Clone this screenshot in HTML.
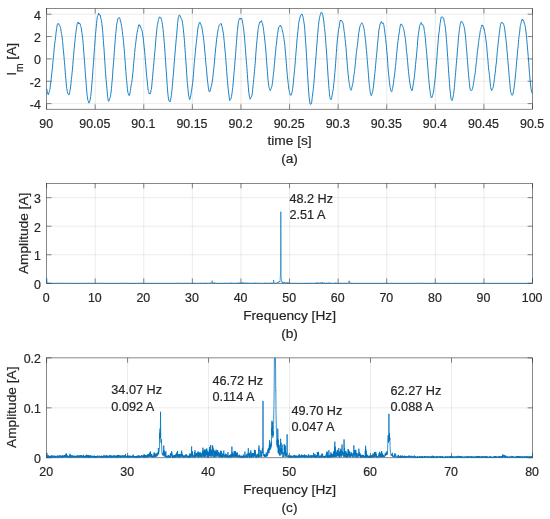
<!DOCTYPE html>
<html><head><meta charset="utf-8"><title>Figure</title>
<style>html,body{margin:0;padding:0;background:#fff;width:550px;height:519px;overflow:hidden}svg{display:block;filter:blur(0.3px)}text{stroke:#262626;stroke-width:0.2px}</style>
</head><body>
<svg width="550" height="519" viewBox="0 0 550 519">
<rect width="550" height="519" fill="#fff"/>
<g font-family="Liberation Sans, Arial, Helvetica, sans-serif" font-size="12.4" fill="#262626">
<path d="M95.19 8.60V109.20M143.78 8.60V109.20M192.37 8.60V109.20M240.96 8.60V109.20M289.55 8.60V109.20M338.14 8.60V109.20M386.73 8.60V109.20M435.32 8.60V109.20M483.91 8.60V109.20" stroke="#262626" stroke-opacity="0.095" stroke-width="1" fill="none"/>
<path d="M46.60 103.61H532.50M46.60 81.26H532.50M46.60 58.90H532.50M46.60 36.54H532.50M46.60 14.19H532.50" stroke="#262626" stroke-opacity="0.095" stroke-width="1" fill="none"/>
<path d="M46.60 109.20v-4.90M46.60 8.60v4.90M95.19 109.20v-4.90M95.19 8.60v4.90M143.78 109.20v-4.90M143.78 8.60v4.90M192.37 109.20v-4.90M192.37 8.60v4.90M240.96 109.20v-4.90M240.96 8.60v4.90M289.55 109.20v-4.90M289.55 8.60v4.90M338.14 109.20v-4.90M338.14 8.60v4.90M386.73 109.20v-4.90M386.73 8.60v4.90M435.32 109.20v-4.90M435.32 8.60v4.90M483.91 109.20v-4.90M483.91 8.60v4.90M532.50 109.20v-4.90M532.50 8.60v4.90M46.60 103.61h4.90M532.50 103.61h-4.90M46.60 81.26h4.90M532.50 81.26h-4.90M46.60 58.90h4.90M532.50 58.90h-4.90M46.60 36.54h4.90M532.50 36.54h-4.90M46.60 14.19h4.90M532.50 14.19h-4.90" stroke="#262626" stroke-width="0.55" fill="none"/>
<rect x="46.60" y="8.60" width="485.90" height="100.60" stroke="#262626" stroke-width="0.55" fill="none"/>
<text x="46.20" y="127.80" text-anchor="middle">90</text>
<text x="94.79" y="127.80" text-anchor="middle">90.05</text>
<text x="143.38" y="127.80" text-anchor="middle">90.1</text>
<text x="191.97" y="127.80" text-anchor="middle">90.15</text>
<text x="240.56" y="127.80" text-anchor="middle">90.2</text>
<text x="289.15" y="127.80" text-anchor="middle">90.25</text>
<text x="337.74" y="127.80" text-anchor="middle">90.3</text>
<text x="386.33" y="127.80" text-anchor="middle">90.35</text>
<text x="434.92" y="127.80" text-anchor="middle">90.4</text>
<text x="483.51" y="127.80" text-anchor="middle">90.45</text>
<text x="532.10" y="127.80" text-anchor="middle">90.5</text>
<text x="40.90" y="109.01" text-anchor="end">-4</text>
<text x="40.90" y="86.66" text-anchor="end">-2</text>
<text x="40.90" y="64.30" text-anchor="end">0</text>
<text x="40.90" y="41.94" text-anchor="end">2</text>
<text x="40.90" y="19.59" text-anchor="end">4</text>
<path d="M46.60 88.67 46.85 89.23 47.10 90.43 47.35 91.56 47.60 92.86 47.85 94.13 48.10 94.59 48.35 94.65 48.60 94.12 48.85 93.04 49.10 92.16 49.36 91.50 49.61 90.26 49.86 89.53 50.11 87.74 50.36 86.00 50.61 84.09 50.86 81.80 51.11 79.60 51.37 77.21 51.62 74.92 51.87 72.32 52.12 70.77 52.37 68.27 52.62 66.07 52.87 62.59 53.12 59.60 53.38 57.10 53.63 55.32 53.88 52.23 54.13 49.70 54.38 47.18 54.63 44.51 54.88 42.33 55.13 40.75 55.39 38.90 55.64 36.55 55.89 34.42 56.14 32.24 56.39 30.04 56.64 28.61 56.89 27.25 57.14 25.50 57.40 24.29 57.65 23.88 57.90 23.66 58.15 23.19 58.40 23.55 58.65 24.37 58.91 24.50 59.16 24.81 59.42 24.69 59.67 25.21 59.92 26.25 60.18 26.81 60.43 27.34 60.68 28.51 60.94 30.04 61.19 31.65 61.45 33.59 61.70 34.36 61.95 36.31 62.21 38.06 62.46 40.37 62.72 42.63 62.97 46.24 63.22 49.02 63.48 50.87 63.73 53.44 63.98 56.46 64.24 59.46 64.49 62.48 64.75 65.40 65.00 68.81 65.25 72.15 65.51 75.42 65.76 78.31 66.02 80.74 66.27 83.96 66.52 86.24 66.78 88.30 67.03 90.00 67.28 91.34 67.54 92.83 67.79 93.41 68.05 94.04 68.30 94.34 68.55 94.82 68.80 95.11 69.06 94.75 69.31 94.27 69.56 92.66 69.81 91.32 70.07 90.06 70.32 89.01 70.57 87.00 70.83 85.12 71.08 82.09 71.33 79.57 71.58 77.42 71.83 75.43 72.09 72.77 72.34 70.49 72.59 67.97 72.84 64.43 73.10 60.93 73.35 58.49 73.60 55.58 73.86 52.00 74.11 49.76 74.36 46.98 74.61 43.68 74.87 41.62 75.12 39.34 75.37 36.70 75.62 34.69 75.88 32.67 76.13 30.84 76.38 29.10 76.63 27.70 76.89 25.36 77.14 24.43 77.39 23.31 77.64 22.56 77.90 22.46 78.15 22.38 78.40 22.96 78.65 22.60 78.90 23.86 79.15 23.01 79.40 23.58 79.65 23.29 79.90 23.40 80.15 24.14 80.40 25.21 80.65 26.34 80.90 26.68 81.15 27.72 81.40 28.87 81.65 30.88 81.90 32.72 82.15 34.46 82.40 35.92 82.65 38.44 82.90 40.56 83.15 43.60 83.40 46.42 83.65 50.63 83.90 53.13 84.15 56.95 84.40 60.05 84.65 63.17 84.90 66.59 85.15 70.42 85.40 74.54 85.65 76.90 85.90 80.26 86.15 83.73 86.40 86.83 86.65 90.13 86.90 92.59 87.15 95.37 87.40 96.77 87.65 99.20 87.90 100.22 88.15 100.67 88.40 101.71 88.65 101.93 88.90 103.11 89.16 102.41 89.41 102.34 89.67 101.10 89.92 100.72 90.18 99.49 90.43 97.98 90.69 96.59 90.94 94.09 91.20 92.15 91.45 89.23 91.71 86.10 91.96 82.82 92.22 79.52 92.47 76.27 92.73 73.01 92.98 69.38 93.24 65.93 93.49 62.41 93.75 59.12 94.01 54.93 94.26 51.17 94.52 47.65 94.77 44.13 95.03 41.06 95.28 37.48 95.54 34.49 95.79 31.64 96.05 28.66 96.30 25.96 96.56 23.67 96.81 20.51 97.07 18.89 97.32 17.06 97.58 16.28 97.83 15.99 98.09 15.45 98.34 14.27 98.60 13.08 98.85 13.65 99.10 13.88 99.35 15.05 99.60 14.87 99.86 14.91 100.11 14.89 100.36 15.51 100.61 17.12 100.86 18.73 101.11 19.61 101.36 20.44 101.61 21.97 101.87 23.48 102.12 26.06 102.37 28.02 102.62 30.58 102.87 33.52 103.12 37.28 103.37 40.32 103.62 43.91 103.88 47.13 104.13 50.64 104.38 54.91 104.63 58.99 104.88 62.49 105.13 66.48 105.38 70.76 105.63 73.69 105.89 77.15 106.14 79.59 106.39 83.10 106.64 85.22 106.89 88.68 107.14 90.99 107.39 94.16 107.64 96.57 107.90 98.31 108.15 100.31 108.40 101.25 108.65 101.35 108.90 100.90 109.16 100.64 109.41 99.60 109.67 98.54 109.92 98.31 110.18 97.77 110.43 96.30 110.69 94.65 110.94 93.14 111.20 91.12 111.45 88.56 111.71 85.62 111.96 82.43 112.22 79.97 112.47 76.76 112.73 73.15 112.98 69.09 113.24 65.75 113.49 62.76 113.75 59.93 114.01 56.33 114.26 52.65 114.52 49.34 114.77 45.74 115.03 42.80 115.28 39.68 115.54 36.25 115.79 33.44 116.05 31.18 116.30 28.17 116.56 25.81 116.81 23.96 117.07 22.81 117.32 21.22 117.58 20.16 117.83 18.84 118.09 18.51 118.34 18.02 118.60 17.78 118.85 17.89 119.10 17.86 119.35 18.01 119.60 17.71 119.86 18.74 120.11 19.19 120.36 21.03 120.61 21.05 120.86 22.05 121.11 23.64 121.36 24.90 121.61 26.32 121.87 27.59 122.12 29.72 122.37 31.58 122.62 34.08 122.87 35.85 123.12 37.41 123.37 40.24 123.62 42.66 123.88 46.06 124.13 48.71 124.38 51.51 124.63 54.66 124.88 58.40 125.13 61.75 125.38 64.76 125.63 67.97 125.89 71.55 126.14 74.74 126.39 77.90 126.64 80.45 126.89 83.10 127.14 85.85 127.39 88.35 127.64 90.87 127.90 92.59 128.15 93.10 128.40 93.77 128.65 94.73 128.90 95.27 129.15 94.76 129.40 95.40 129.65 94.66 129.90 93.32 130.16 91.72 130.41 90.59 130.66 88.70 130.91 86.55 131.16 85.21 131.41 83.61 131.66 82.75 131.91 81.11 132.17 79.48 132.42 77.03 132.67 74.98 132.92 72.87 133.17 70.07 133.42 66.19 133.67 63.23 133.92 60.88 134.18 58.29 134.43 55.65 134.68 52.47 134.93 49.74 135.18 47.77 135.43 45.64 135.68 43.46 135.93 41.24 136.19 39.16 136.44 36.90 136.69 35.22 136.94 33.44 137.19 32.27 137.44 30.92 137.69 29.70 137.94 28.47 138.20 26.94 138.45 26.19 138.70 24.94 138.95 24.73 139.20 24.49 139.45 25.24 139.70 25.98 139.95 25.82 140.20 25.61 140.46 26.08 140.71 27.00 140.96 28.25 141.21 29.06 141.46 29.64 141.71 29.45 141.96 30.14 142.21 31.76 142.47 33.10 142.72 34.95 142.97 36.15 143.22 37.87 143.47 40.41 143.72 42.85 143.97 45.11 144.22 47.71 144.48 50.09 144.73 52.74 144.98 55.43 145.23 58.82 145.48 61.34 145.73 64.81 145.98 67.72 146.23 70.99 146.49 73.79 146.74 76.46 146.99 78.83 147.24 81.16 147.49 84.05 147.74 86.50 147.99 88.99 148.24 90.39 148.50 91.45 148.75 91.71 149.00 93.09 149.25 93.90 149.50 93.81 149.75 94.05 150.00 93.78 150.26 94.02 150.51 92.86 150.76 92.31 151.01 90.19 151.27 89.59 151.52 87.97 151.77 86.09 152.03 82.76 152.28 80.60 152.53 77.65 152.78 74.63 153.03 71.84 153.29 68.75 153.54 66.23 153.79 63.18 154.04 60.77 154.30 57.58 154.55 54.94 154.80 52.41 155.06 49.54 155.31 46.63 155.56 42.97 155.81 40.23 156.06 37.14 156.32 34.53 156.57 31.98 156.82 29.49 157.07 27.47 157.33 25.41 157.58 24.78 157.83 23.20 158.09 21.70 158.34 20.48 158.59 19.29 158.84 18.84 159.09 17.97 159.35 17.21 159.60 16.85 159.85 17.07 160.11 17.58 160.36 17.88 160.62 17.71 160.87 17.61 161.12 18.26 161.38 19.85 161.63 20.53 161.88 21.73 162.14 22.39 162.39 24.61 162.65 26.04 162.90 28.26 163.15 30.12 163.41 32.78 163.66 35.86 163.92 38.36 164.17 41.32 164.42 44.64 164.68 48.14 164.93 51.45 165.18 55.22 165.44 59.20 165.69 62.58 165.95 67.09 166.20 70.34 166.45 73.99 166.71 77.40 166.96 81.87 167.22 85.38 167.47 89.18 167.72 92.03 167.98 94.59 168.23 96.77 168.48 98.81 168.74 100.20 168.99 100.96 169.25 101.07 169.50 101.07 169.75 101.46 170.00 102.04 170.26 101.50 170.51 100.40 170.76 99.00 171.01 97.47 171.27 95.57 171.52 93.90 171.77 91.42 172.03 89.40 172.28 86.43 172.53 83.82 172.78 80.36 173.03 77.88 173.29 75.15 173.54 72.36 173.79 68.87 174.04 65.25 174.30 61.86 174.55 58.68 174.80 55.51 175.06 52.96 175.31 49.94 175.56 47.10 175.81 44.22 176.06 40.95 176.32 38.17 176.57 35.68 176.82 33.00 177.07 29.81 177.33 26.65 177.58 23.59 177.83 21.32 178.09 19.23 178.34 17.67 178.59 16.77 178.84 15.40 179.09 15.15 179.35 14.93 179.60 15.15 179.85 15.41 180.10 16.34 180.36 16.26 180.61 17.03 180.86 17.96 181.11 18.25 181.37 18.94 181.62 19.32 181.87 20.06 182.12 20.63 182.38 22.03 182.63 23.62 182.88 25.18 183.13 27.39 183.39 29.48 183.64 32.00 183.89 34.72 184.14 37.38 184.40 40.36 184.65 43.69 184.90 47.12 185.16 50.82 185.41 54.42 185.66 58.23 185.91 61.59 186.16 65.70 186.42 69.25 186.67 72.97 186.92 76.54 187.17 80.50 187.43 83.40 187.68 86.10 187.93 88.75 188.19 91.42 188.44 93.82 188.69 95.87 188.94 96.72 189.19 97.69 189.45 98.79 189.70 99.58 189.95 98.80 190.20 97.88 190.45 97.08 190.71 95.82 190.96 94.29 191.21 92.66 191.46 91.05 191.71 89.77 191.96 87.77 192.21 86.18 192.46 84.06 192.72 82.59 192.97 79.99 193.22 77.52 193.47 74.24 193.72 70.76 193.97 67.47 194.22 63.80 194.47 61.17 194.73 58.53 194.98 55.57 195.23 53.54 195.48 50.24 195.73 47.99 195.98 45.38 196.23 43.51 196.48 41.41 196.74 38.70 196.99 36.56 197.24 34.23 197.49 32.04 197.74 29.11 197.99 28.04 198.24 26.95 198.49 25.96 198.75 24.56 199.00 23.68 199.25 22.64 199.50 22.72 199.75 22.58 200.00 22.25 200.26 23.12 200.51 23.99 200.76 24.28 201.01 25.00 201.27 25.72 201.52 26.10 201.77 26.85 202.03 28.05 202.28 29.90 202.53 31.80 202.78 33.05 203.03 34.56 203.29 36.17 203.54 38.23 203.79 40.40 204.04 42.23 204.30 44.82 204.55 48.15 204.80 50.98 205.06 53.78 205.31 56.32 205.56 59.34 205.81 62.32 206.06 65.56 206.32 67.61 206.57 70.21 206.82 73.07 207.07 76.20 207.33 79.02 207.58 81.50 207.83 83.22 208.09 85.25 208.34 87.45 208.59 88.84 208.84 90.34 209.09 91.16 209.35 91.93 209.60 91.68 209.85 91.63 210.10 91.03 210.35 90.06 210.60 89.12 210.85 87.80 211.10 86.72 211.35 86.09 211.60 85.21 211.85 83.83 212.10 82.43 212.35 81.04 212.60 78.70 212.85 77.18 213.10 74.81 213.35 72.07 213.60 69.56 213.85 67.85 214.10 65.62 214.35 63.17 214.60 60.21 214.85 57.02 215.10 54.15 215.35 52.10 215.60 48.90 215.85 46.72 216.10 44.72 216.35 42.07 216.60 39.25 216.85 37.77 217.10 36.25 217.35 34.45 217.60 32.78 217.85 31.16 218.10 29.73 218.35 28.58 218.60 27.42 218.85 26.35 219.10 25.23 219.35 24.91 219.60 24.85 219.85 24.62 220.10 23.98 220.35 23.67 220.60 23.73 220.86 23.77 221.11 23.74 221.36 23.74 221.61 25.11 221.87 26.18 222.12 27.02 222.37 27.72 222.62 29.45 222.88 30.97 223.13 31.98 223.38 33.27 223.63 35.33 223.89 38.11 224.14 40.49 224.39 43.34 224.64 45.96 224.90 48.94 225.15 51.66 225.40 53.84 225.66 57.54 225.91 60.53 226.16 64.07 226.41 67.38 226.66 71.26 226.92 73.92 227.17 77.53 227.42 80.67 227.67 83.09 227.93 85.96 228.18 88.89 228.43 90.86 228.69 93.13 228.94 95.16 229.19 97.15 229.44 99.20 229.69 100.55 229.95 100.24 230.20 99.52 230.45 99.22 230.71 99.19 230.96 98.89 231.22 97.68 231.47 96.48 231.72 95.05 231.98 93.71 232.23 91.62 232.48 89.79 232.74 87.53 232.99 84.94 233.25 82.14 233.50 78.99 233.75 75.44 234.01 72.92 234.26 70.81 234.52 67.67 234.77 64.13 235.02 60.80 235.28 58.08 235.53 54.68 235.78 51.64 236.04 48.09 236.29 44.65 236.55 41.48 236.80 38.20 237.05 34.29 237.31 31.45 237.56 29.16 237.82 27.00 238.07 24.79 238.32 22.86 238.58 21.53 238.83 20.39 239.08 19.44 239.34 18.55 239.59 18.59 239.85 18.26 240.10 19.10 240.35 19.06 240.60 19.05 240.85 18.22 241.10 18.83 241.36 18.38 241.61 18.53 241.86 19.21 242.11 20.15 242.36 21.07 242.61 22.97 242.86 23.85 243.11 25.43 243.37 27.12 243.62 29.28 243.87 31.33 244.12 33.30 244.37 36.04 244.62 38.20 244.87 41.62 245.12 44.67 245.38 48.25 245.63 51.86 245.88 55.34 246.13 58.90 246.38 61.67 246.63 64.47 246.88 67.60 247.13 71.19 247.39 74.73 247.64 78.42 247.89 81.82 248.14 84.40 248.39 87.51 248.64 91.00 248.89 92.78 249.14 94.89 249.40 96.08 249.65 97.28 249.90 98.20 250.15 99.20 250.40 98.59 250.65 97.78 250.91 97.74 251.16 97.13 251.41 96.93 251.66 96.19 251.91 95.32 252.17 93.87 252.42 92.30 252.67 89.37 252.93 86.56 253.18 84.51 253.43 82.39 253.68 79.68 253.94 76.87 254.19 74.39 254.44 71.48 254.69 68.77 254.94 65.61 255.20 63.29 255.45 59.80 255.70 56.15 255.96 52.09 256.21 49.14 256.46 45.70 256.71 43.08 256.96 40.59 257.22 37.89 257.47 35.53 257.72 33.09 257.98 30.39 258.23 28.46 258.48 27.23 258.73 25.91 258.99 24.92 259.24 23.77 259.49 22.78 259.74 22.03 260.00 22.65 260.25 22.39 260.50 21.40 260.76 21.53 261.01 21.36 261.27 21.15 261.52 20.70 261.78 22.04 262.03 22.28 262.29 23.17 262.54 23.83 262.80 25.26 263.05 26.20 263.31 27.46 263.56 29.74 263.82 31.71 264.07 34.23 264.33 35.80 264.58 37.98 264.84 40.74 265.09 42.79 265.35 45.27 265.61 47.95 265.86 50.97 266.12 54.03 266.37 58.12 266.63 61.64 266.88 65.34 267.14 68.18 267.39 71.60 267.65 74.92 267.90 78.20 268.16 80.77 268.41 82.81 268.67 85.43 268.92 86.65 269.18 87.86 269.43 88.57 269.69 89.48 269.94 90.12 270.20 90.59 270.45 90.02 270.71 89.31 270.96 88.94 271.21 88.33 271.46 87.63 271.72 86.76 271.97 86.05 272.22 84.47 272.47 82.51 272.73 80.50 272.98 78.40 273.23 75.64 273.48 73.67 273.74 71.71 273.99 69.50 274.24 66.30 274.49 63.29 274.75 60.08 275.00 57.28 275.25 55.12 275.51 52.21 275.76 50.20 276.01 46.89 276.26 45.33 276.52 42.93 276.77 40.76 277.02 38.10 277.27 35.88 277.53 34.35 277.78 32.70 278.03 31.02 278.28 29.06 278.54 27.82 278.79 27.03 279.04 27.10 279.29 26.86 279.55 26.51 279.80 25.89 280.05 25.60 280.30 25.31 280.55 25.97 280.80 25.90 281.06 27.04 281.31 26.84 281.56 27.33 281.81 28.36 282.06 29.56 282.31 30.27 282.56 30.99 282.81 32.38 283.07 33.78 283.32 34.71 283.57 36.52 283.82 37.47 284.07 39.30 284.32 41.23 284.57 42.96 284.82 45.55 285.07 48.03 285.33 51.29 285.58 54.22 285.83 57.46 286.08 60.20 286.33 63.35 286.58 66.77 286.83 70.02 287.08 72.71 287.33 75.43 287.59 78.05 287.84 80.17 288.09 82.61 288.34 84.39 288.59 86.88 288.84 89.23 289.09 90.37 289.34 91.16 289.60 92.59 289.85 93.63 290.10 94.54 290.35 95.10 290.60 94.98 290.85 95.26 291.10 94.71 291.35 94.74 291.60 93.27 291.85 93.24 292.10 91.63 292.35 90.88 292.60 89.22 292.85 87.03 293.10 85.22 293.35 82.51 293.60 80.05 293.85 76.68 294.10 74.25 294.35 71.83 294.60 69.52 294.85 66.68 295.10 64.18 295.35 60.65 295.60 57.38 295.85 54.28 296.10 51.39 296.35 48.27 296.60 45.21 296.85 41.92 297.10 38.89 297.35 36.49 297.60 34.05 297.85 31.71 298.10 29.59 298.35 26.70 298.60 24.61 298.85 22.51 299.10 21.15 299.35 20.16 299.60 19.03 299.85 18.18 300.10 16.99 300.35 16.16 300.60 15.34 300.85 15.07 301.10 15.13 301.35 14.58 301.60 14.05 301.85 14.07 302.10 14.46 302.35 14.37 302.60 15.84 302.85 16.20 303.10 17.39 303.35 18.68 303.60 20.22 303.85 21.79 304.10 23.19 304.35 25.15 304.60 27.19 304.85 30.47 305.10 34.23 305.35 37.88 305.60 41.84 305.85 44.64 306.10 48.76 306.35 52.73 306.60 57.38 306.85 61.44 307.10 66.59 307.35 70.94 307.60 75.48 307.85 78.93 308.10 83.21 308.35 86.98 308.60 91.05 308.85 93.83 309.10 96.96 309.35 98.84 309.60 101.01 309.85 102.60 310.10 103.99 310.35 104.16 310.60 104.32 310.85 104.30 311.10 103.58 311.35 103.54 311.60 102.94 311.85 101.01 312.10 98.64 312.35 96.59 312.60 94.92 312.85 92.84 313.10 90.81 313.35 88.36 313.60 86.38 313.85 83.65 314.10 80.75 314.35 77.34 314.60 73.80 314.85 70.21 315.10 67.48 315.35 64.02 315.60 60.81 315.85 58.02 316.10 55.56 316.35 51.74 316.60 48.05 316.85 44.94 317.10 41.98 317.35 38.59 317.60 35.35 317.85 32.60 318.10 29.79 318.35 26.65 318.60 24.60 318.85 21.88 319.10 20.39 319.35 18.91 319.60 17.69 319.85 16.32 320.10 15.61 320.35 14.62 320.60 13.86 320.85 12.72 321.10 13.13 321.36 12.75 321.61 12.72 321.87 12.50 322.12 12.83 322.38 13.30 322.63 14.57 322.89 15.50 323.14 17.05 323.40 18.98 323.65 20.17 323.91 22.00 324.16 24.80 324.42 27.54 324.67 28.82 324.93 31.82 325.18 34.43 325.44 37.13 325.69 40.82 325.95 44.46 326.21 47.92 326.46 50.88 326.72 54.99 326.97 58.69 327.23 62.94 327.48 67.03 327.74 70.97 327.99 75.18 328.25 78.81 328.50 81.96 328.76 85.53 329.01 88.43 329.27 91.50 329.52 93.73 329.78 96.48 330.03 97.63 330.29 98.81 330.54 99.44 330.80 99.73 331.05 99.48 331.31 98.94 331.56 98.83 331.82 97.42 332.07 95.58 332.32 94.39 332.58 92.42 332.83 91.13 333.08 90.16 333.34 88.57 333.59 85.88 333.85 83.28 334.10 81.42 334.35 78.59 334.61 75.95 334.86 72.33 335.12 69.91 335.37 67.22 335.62 63.50 335.88 59.53 336.13 55.99 336.38 52.43 336.64 48.88 336.89 45.47 337.15 42.09 337.40 39.40 337.65 37.17 337.91 35.52 338.16 33.34 338.42 31.20 338.67 29.40 338.92 28.33 339.18 27.18 339.43 25.52 339.68 23.24 339.94 21.69 340.19 20.52 340.45 20.90 340.70 20.14 340.95 20.33 341.20 20.01 341.45 20.41 341.70 21.06 341.95 21.40 342.20 21.68 342.45 21.46 342.70 22.40 342.95 23.05 343.20 24.30 343.45 25.72 343.70 27.51 343.95 29.72 344.20 31.70 344.45 33.41 344.70 35.27 344.95 37.65 345.20 39.73 345.45 42.25 345.70 44.64 345.95 47.41 346.20 50.14 346.45 53.46 346.70 57.02 346.95 60.04 347.20 63.31 347.45 66.27 347.70 69.44 347.95 72.21 348.20 74.48 348.45 76.94 348.70 79.50 348.95 81.56 349.20 83.18 349.45 84.51 349.70 86.11 349.95 87.42 350.20 88.45 350.45 89.45 350.70 89.90 350.95 90.27 351.21 90.16 351.46 89.46 351.72 88.33 351.97 87.12 352.23 86.05 352.48 84.75 352.74 83.89 352.99 82.72 353.25 80.64 353.50 78.40 353.76 76.50 354.01 74.73 354.27 73.24 354.52 71.56 354.78 69.25 355.03 66.63 355.29 64.17 355.54 61.62 355.80 58.61 356.05 55.98 356.30 53.63 356.56 51.62 356.81 49.53 357.07 47.44 357.32 45.60 357.58 43.91 357.83 41.67 358.09 38.72 358.34 36.30 358.60 33.76 358.85 32.37 359.11 31.03 359.36 28.99 359.62 27.76 359.87 26.80 360.13 26.04 360.38 25.40 360.64 24.70 360.89 24.32 361.15 23.85 361.40 23.45 361.65 22.75 361.91 22.81 362.16 23.29 362.42 23.48 362.67 24.37 362.92 24.70 363.18 25.25 363.43 25.88 363.68 27.11 363.94 28.29 364.19 29.46 364.45 31.57 364.70 33.48 364.95 35.86 365.21 37.74 365.46 39.81 365.72 41.84 365.97 45.16 366.22 47.77 366.48 50.56 366.73 53.14 366.98 56.54 367.24 59.49 367.49 63.18 367.75 65.64 368.00 68.77 368.25 72.31 368.51 75.42 368.76 79.06 369.02 82.21 369.27 84.28 369.52 86.35 369.78 88.47 370.03 90.57 370.28 92.19 370.54 93.72 370.79 94.80 371.05 95.46 371.30 95.61 371.55 94.87 371.81 94.30 372.06 93.13 372.31 92.92 372.56 91.75 372.81 90.83 373.07 88.77 373.32 87.72 373.57 85.89 373.82 82.95 374.08 80.31 374.33 78.04 374.58 75.98 374.83 73.29 375.09 71.21 375.34 68.70 375.59 65.37 375.84 62.87 376.10 59.46 376.35 57.15 376.60 54.67 376.86 52.32 377.11 49.12 377.36 45.84 377.61 43.52 377.87 40.83 378.12 38.48 378.37 35.71 378.62 32.90 378.88 30.42 379.13 28.88 379.38 28.02 379.63 26.57 379.88 25.09 380.14 23.87 380.39 23.36 380.64 22.70 380.89 22.79 381.15 21.90 381.40 21.54 381.65 22.18 381.91 22.97 382.16 23.58 382.42 23.50 382.67 23.25 382.92 22.76 383.18 23.55 383.43 23.59 383.68 24.62 383.94 25.54 384.19 27.52 384.45 29.26 384.70 31.05 384.95 33.17 385.21 35.12 385.46 37.39 385.72 39.45 385.97 41.98 386.22 44.21 386.48 47.22 386.73 50.56 386.98 53.00 387.24 55.68 387.49 59.08 387.75 63.34 388.00 67.44 388.25 70.24 388.51 72.84 388.76 74.82 389.02 77.94 389.27 80.31 389.52 82.78 389.78 84.86 390.03 86.86 390.28 87.56 390.54 88.89 390.79 90.44 391.05 91.09 391.30 91.44 391.55 91.68 391.81 91.66 392.06 90.81 392.32 89.57 392.57 88.68 392.82 87.05 393.08 85.73 393.33 83.87 393.58 82.21 393.84 79.73 394.09 78.01 394.35 76.42 394.60 74.99 394.85 72.38 395.11 70.12 395.36 66.83 395.62 65.27 395.87 62.78 396.12 59.86 396.38 57.21 396.63 54.20 396.88 51.51 397.14 48.83 397.39 45.99 397.65 44.15 397.90 41.63 398.15 40.75 398.41 37.74 398.66 35.93 398.92 34.01 399.17 33.16 399.42 31.37 399.68 29.19 399.93 27.74 400.18 26.08 400.44 25.04 400.69 24.30 400.95 24.35 401.20 24.21 401.45 23.94 401.70 24.69 401.95 25.27 402.20 25.31 402.46 26.00 402.71 26.16 402.96 26.55 403.21 27.53 403.46 28.47 403.71 29.23 403.96 30.17 404.21 31.88 404.47 33.31 404.72 35.18 404.97 36.69 405.22 37.69 405.47 39.67 405.72 42.14 405.97 44.26 406.22 47.70 406.48 50.76 406.73 52.66 406.98 54.89 407.23 57.52 407.48 60.55 407.73 62.77 407.98 66.12 408.23 69.02 408.49 71.42 408.74 73.89 408.99 75.84 409.24 78.09 409.49 80.06 409.74 82.23 409.99 83.67 410.24 85.18 410.50 86.89 410.75 88.25 411.00 88.97 411.25 89.23 411.50 89.79 411.76 90.64 412.01 90.79 412.27 90.18 412.52 88.94 412.78 86.94 413.03 86.03 413.29 84.19 413.54 82.19 413.80 80.52 414.05 79.03 414.31 77.58 414.56 74.81 414.82 72.24 415.07 70.06 415.33 67.10 415.58 64.47 415.84 61.79 416.09 59.46 416.35 57.12 416.61 53.83 416.86 51.45 417.12 48.19 417.37 45.74 417.63 41.79 417.88 38.93 418.14 36.43 418.39 34.58 418.65 33.07 418.90 30.76 419.16 29.18 419.41 26.70 419.67 25.56 419.92 24.86 420.18 24.45 420.43 23.78 420.69 23.41 420.94 22.66 421.20 22.49 421.45 23.10 421.71 24.11 421.96 24.73 422.21 25.26 422.47 25.01 422.72 24.72 422.98 25.26 423.23 25.65 423.48 26.09 423.74 26.83 423.99 28.03 424.24 30.27 424.50 31.50 424.75 33.60 425.00 34.95 425.26 37.58 425.51 40.13 425.77 43.43 426.02 46.33 426.27 48.68 426.53 51.28 426.78 54.39 427.03 57.94 427.29 61.03 427.54 63.97 427.80 67.16 428.05 70.33 428.30 73.84 428.56 77.18 428.81 79.61 429.06 81.96 429.32 84.57 429.57 87.92 429.82 89.19 430.08 91.29 430.33 93.45 430.59 95.16 430.84 95.86 431.09 97.29 431.35 97.65 431.60 98.00 431.85 97.70 432.10 97.20 432.35 96.10 432.60 95.66 432.85 94.40 433.10 93.17 433.35 92.35 433.60 91.02 433.85 89.48 434.10 86.94 434.35 85.45 434.60 83.26 434.85 80.89 435.10 78.58 435.35 76.36 435.60 73.84 435.85 70.75 436.10 67.44 436.35 64.49 436.60 61.99 436.85 58.46 437.10 55.31 437.35 50.82 437.60 48.00 437.85 45.03 438.10 42.14 438.35 38.72 438.60 35.93 438.85 33.79 439.10 32.15 439.35 30.35 439.60 27.81 439.85 25.51 440.10 23.36 440.35 22.46 440.60 20.15 440.85 18.92 441.10 17.46 441.35 17.01 441.60 17.14 441.85 16.81 442.10 16.96 442.36 16.84 442.61 17.33 442.87 17.93 443.12 18.04 443.38 18.16 443.63 18.16 443.89 19.23 444.14 20.81 444.40 22.61 444.65 23.53 444.91 24.94 445.16 26.23 445.42 28.22 445.67 30.71 445.93 33.22 446.18 36.35 446.44 39.26 446.69 42.70 446.95 46.04 447.21 50.12 447.46 54.02 447.72 57.48 447.97 61.41 448.23 65.60 448.48 69.22 448.74 73.16 448.99 76.80 449.25 80.09 449.50 83.29 449.76 86.92 450.01 90.09 450.27 92.05 450.52 94.65 450.78 96.87 451.03 98.55 451.29 99.57 451.54 100.08 451.80 100.16 452.06 100.61 452.31 100.44 452.57 99.41 452.82 97.90 453.08 97.02 453.33 95.89 453.59 94.42 453.84 92.09 454.10 90.31 454.35 87.42 454.61 84.61 454.86 81.22 455.12 78.58 455.37 75.63 455.63 72.73 455.88 69.77 456.14 66.24 456.39 63.30 456.65 60.25 456.91 57.50 457.16 54.07 457.42 50.96 457.67 48.15 457.93 44.76 458.18 41.26 458.44 37.90 458.69 35.72 458.95 33.44 459.20 31.67 459.46 29.54 459.71 27.58 459.97 25.88 460.22 24.68 460.48 23.37 460.73 22.15 460.99 21.43 461.24 21.60 461.50 21.60 461.76 21.63 462.01 21.40 462.27 21.89 462.52 22.22 462.78 22.82 463.03 23.75 463.29 24.02 463.54 25.13 463.80 25.61 464.05 27.15 464.31 27.30 464.56 28.70 464.82 30.82 465.07 33.03 465.33 34.72 465.58 37.42 465.84 40.49 466.09 43.39 466.35 46.64 466.61 49.79 466.86 52.50 467.12 56.26 467.37 59.64 467.63 62.78 467.88 66.00 468.14 69.49 468.39 72.41 468.65 75.39 468.90 78.49 469.16 80.61 469.41 83.18 469.67 85.87 469.92 87.83 470.18 89.24 470.43 90.19 470.69 90.30 470.94 90.56 471.20 90.28 471.45 90.33 471.71 90.49 471.96 90.04 472.21 89.74 472.47 88.48 472.72 88.14 472.97 86.12 473.23 85.46 473.48 83.45 473.73 81.85 473.99 80.45 474.24 78.51 474.50 77.09 474.75 75.14 475.00 74.41 475.26 72.27 475.51 70.32 475.76 67.46 476.02 65.01 476.27 62.71 476.52 60.73 476.78 58.23 477.03 55.76 477.28 52.67 477.54 50.59 477.79 48.84 478.04 47.11 478.30 44.32 478.55 42.58 478.80 40.51 479.06 38.69 479.31 37.47 479.57 35.58 479.82 34.19 480.07 32.27 480.33 30.45 480.58 29.58 480.83 28.64 481.09 27.88 481.34 26.86 481.59 26.27 481.85 25.10 482.10 24.91 482.36 25.94 482.61 26.01 482.87 26.05 483.12 25.89 483.38 26.44 483.63 27.53 483.89 29.05 484.14 28.90 484.40 30.07 484.65 31.45 484.91 33.25 485.16 34.37 485.42 36.07 485.67 38.11 485.93 40.04 486.18 42.04 486.44 43.68 486.69 45.93 486.95 49.78 487.21 53.00 487.46 56.10 487.72 57.92 487.97 60.68 488.23 64.34 488.48 67.58 488.74 70.21 488.99 71.54 489.25 73.71 489.50 75.56 489.76 78.51 490.01 81.33 490.27 83.49 490.52 86.45 490.78 87.53 491.03 89.18 491.29 89.26 491.54 90.53 491.80 90.53 492.05 89.53 492.30 88.98 492.55 88.76 492.80 88.60 493.05 87.64 493.30 86.68 493.55 85.07 493.80 83.41 494.05 81.93 494.30 79.75 494.55 77.68 494.80 75.86 495.05 73.82 495.30 72.05 495.55 69.46 495.80 66.99 496.05 64.68 496.30 62.91 496.55 60.86 496.80 57.42 497.05 54.51 497.30 51.77 497.55 49.35 497.80 46.64 498.05 44.32 498.30 41.92 498.55 39.92 498.80 37.59 499.05 35.54 499.30 33.25 499.55 31.12 499.80 29.79 500.05 27.30 500.30 26.31 500.55 24.48 500.80 23.87 501.05 22.91 501.30 22.85 501.55 22.31 501.80 22.16 502.05 22.49 502.31 22.67 502.56 22.76 502.81 23.18 503.06 23.08 503.31 23.63 503.57 24.21 503.82 25.22 504.07 25.62 504.32 26.84 504.58 28.09 504.83 29.94 505.08 32.09 505.33 34.48 505.59 36.09 505.84 38.51 506.09 40.64 506.34 42.56 506.60 45.55 506.85 48.62 507.10 51.75 507.36 53.96 507.61 57.44 507.86 60.50 508.11 63.16 508.37 66.28 508.62 69.40 508.87 72.31 509.12 75.28 509.38 78.57 509.63 80.93 509.88 83.78 510.13 86.83 510.38 89.65 510.64 91.33 510.89 92.56 511.14 93.38 511.39 94.38 511.65 95.09 511.90 95.28 512.15 95.14 512.40 95.16 512.65 95.11 512.90 94.41 513.16 93.09 513.41 91.26 513.66 90.12 513.91 88.94 514.16 87.11 514.41 85.23 514.66 83.13 514.91 80.61 515.17 78.18 515.42 76.09 515.67 73.38 515.92 70.47 516.17 67.74 516.42 64.69 516.67 61.84 516.92 58.98 517.18 56.11 517.43 52.97 517.68 50.28 517.93 48.14 518.18 45.42 518.43 42.48 518.68 39.57 518.93 36.64 519.19 35.60 519.44 33.59 519.69 32.01 519.94 29.00 520.19 26.58 520.44 25.41 520.69 24.73 520.94 23.62 521.20 22.26 521.45 21.18 521.70 20.36 521.95 19.59 522.20 20.06 522.45 19.30 522.70 19.38 522.95 20.05 523.20 20.91 523.46 20.57 523.71 20.71 523.96 21.87 524.21 23.04 524.46 24.02 524.71 24.73 524.96 25.35 525.21 25.89 525.47 27.72 525.72 29.88 525.97 32.07 526.22 34.18 526.47 36.58 526.72 39.39 526.97 41.71 527.22 44.73 527.48 47.83 527.73 50.58 527.98 53.49 528.23 56.72 528.48 59.89 528.73 62.40 528.98 66.24 529.23 69.98 529.49 73.26 529.74 75.94 529.99 78.92 530.24 81.66 530.49 84.00 530.74 86.19 530.99 88.38 531.24 90.07 531.50 91.24 531.75 92.37 532.00 92.56 532.25 93.24 532.50 93.07" stroke="#0072BD" stroke-width="0.9" fill="none" stroke-linejoin="round"/>
<text x="289.55" y="145.40" text-anchor="middle" font-size="13.7">time [s]</text>
<text x="289.55" y="163.40" text-anchor="middle" font-size="13.7">(a)</text>
<text transform="translate(16.4 59.35) rotate(-90)" text-anchor="middle" font-size="13.7">I<tspan font-size="10.3" dy="6.9">m</tspan><tspan dy="-6.9"> [A]</tspan></text>
<path d="M95.19 183.40V283.30M143.78 183.40V283.30M192.37 183.40V283.30M240.96 183.40V283.30M289.55 183.40V283.30M338.14 183.40V283.30M386.73 183.40V283.30M435.32 183.40V283.30M483.91 183.40V283.30" stroke="#262626" stroke-opacity="0.095" stroke-width="1" fill="none"/>
<path d="M46.60 254.76H532.50M46.60 226.21H532.50M46.60 197.67H532.50" stroke="#262626" stroke-opacity="0.095" stroke-width="1" fill="none"/>
<path d="M46.60 283.30v-4.90M46.60 183.40v4.90M95.19 283.30v-4.90M95.19 183.40v4.90M143.78 283.30v-4.90M143.78 183.40v4.90M192.37 283.30v-4.90M192.37 183.40v4.90M240.96 283.30v-4.90M240.96 183.40v4.90M289.55 283.30v-4.90M289.55 183.40v4.90M338.14 283.30v-4.90M338.14 183.40v4.90M386.73 283.30v-4.90M386.73 183.40v4.90M435.32 283.30v-4.90M435.32 183.40v4.90M483.91 283.30v-4.90M483.91 183.40v4.90M532.50 283.30v-4.90M532.50 183.40v4.90M46.60 283.30h4.90M532.50 283.30h-4.90M46.60 254.76h4.90M532.50 254.76h-4.90M46.60 226.21h4.90M532.50 226.21h-4.90M46.60 197.67h4.90M532.50 197.67h-4.90" stroke="#262626" stroke-width="0.55" fill="none"/>
<rect x="46.60" y="183.40" width="485.90" height="99.90" stroke="#262626" stroke-width="0.55" fill="none"/>
<text x="46.20" y="301.90" text-anchor="middle">0</text>
<text x="94.79" y="301.90" text-anchor="middle">10</text>
<text x="143.38" y="301.90" text-anchor="middle">20</text>
<text x="191.97" y="301.90" text-anchor="middle">30</text>
<text x="240.56" y="301.90" text-anchor="middle">40</text>
<text x="289.15" y="301.90" text-anchor="middle">50</text>
<text x="337.74" y="301.90" text-anchor="middle">60</text>
<text x="386.33" y="301.90" text-anchor="middle">70</text>
<text x="434.92" y="301.90" text-anchor="middle">80</text>
<text x="483.51" y="301.90" text-anchor="middle">90</text>
<text x="532.10" y="301.90" text-anchor="middle">100</text>
<text x="40.90" y="288.70" text-anchor="end">0</text>
<text x="40.90" y="260.16" text-anchor="end">1</text>
<text x="40.90" y="231.61" text-anchor="end">2</text>
<text x="40.90" y="203.07" text-anchor="end">3</text>
<path d="M46.6 277.88 47.0 283.28 47.1 283.15 47.6 283.30 48.0 283.28 48.0 283.19 48.1 283.28 48.2 283.17 48.8 283.14 49.1 283.27 49.2 283.27 49.4 283.15 49.8 283.14 50.0 283.28 50.4 283.18 50.6 283.28 50.7 283.28 50.8 283.16 51.5 283.28 51.5 283.20 52.0 283.26 52.1 283.10 52.1 283.27 52.2 283.11 52.8 283.21 53.1 283.27 53.1 283.27 53.2 283.17 53.7 283.20 53.8 283.28 54.3 283.18 54.4 283.28 54.7 283.21 54.8 283.26 55.2 283.17 55.3 283.30 55.6 283.15 55.8 283.26 56.1 283.28 56.3 283.18 56.8 283.28 57.1 283.19 57.2 283.12 57.2 283.29 57.7 283.26 57.8 283.13 58.4 283.28 58.5 283.18 58.8 283.29 58.9 283.17 59.3 283.26 59.5 283.15 59.9 283.16 59.9 283.28 60.4 283.14 60.5 283.29 60.7 283.14 61.0 283.27 61.4 283.28 61.6 283.20 61.8 283.21 61.8 283.30 62.2 283.29 62.4 283.15 62.7 283.16 63.0 283.28 63.3 283.14 63.4 283.28 63.7 283.28 64.0 283.17 64.2 283.13 64.3 283.27 64.6 283.29 64.7 283.17 65.2 283.17 65.6 283.29 65.7 283.27 66.1 283.21 66.2 283.26 66.5 283.15 66.8 283.28 66.9 283.20 67.1 283.28 67.4 283.19 67.8 283.15 67.9 283.29 68.2 283.28 68.6 283.15 68.8 283.14 69.1 283.30 69.2 283.27 69.3 283.17 69.6 283.26 69.8 283.16 70.2 283.26 70.3 283.15 70.7 283.29 71.0 283.19 71.3 283.28 71.4 283.19 71.6 283.20 72.0 283.29 72.5 283.18 72.6 283.29 72.7 283.27 73.0 283.18 73.3 283.23 73.3 283.28 73.6 283.19 73.9 283.29 74.1 283.11 74.5 283.27 74.8 283.28 74.9 283.16 75.2 283.17 75.6 283.27 75.8 283.21 75.9 283.30 76.4 283.19 76.5 283.29 76.7 283.21 76.8 283.29 77.2 283.29 77.4 283.19 77.6 283.15 78.0 283.26 78.3 283.28 78.6 283.17 78.9 283.28 79.1 283.16 79.2 283.19 79.3 283.28 79.9 283.28 80.0 283.18 80.1 283.04 80.5 283.28 80.8 283.23 81.0 283.28 81.4 283.15 81.5 283.28 81.9 283.19 82.1 283.28 82.2 283.28 82.4 283.21 82.6 283.28 82.9 283.20 83.1 283.30 83.3 283.18 83.8 283.17 84.0 283.26 84.4 283.15 84.5 283.28 84.8 283.15 84.9 283.28 85.1 283.27 85.5 283.17 85.6 283.29 85.9 283.17 86.4 283.14 86.4 283.29 86.6 283.28 86.7 283.19 87.3 283.17 87.4 283.27 87.9 283.16 88.0 283.28 88.2 283.12 88.4 283.26 88.6 283.16 88.9 283.29 89.3 283.28 89.3 283.20 89.7 283.16 90.0 283.27 90.4 283.28 90.6 283.23 90.8 283.20 91.0 283.27 91.2 283.21 91.2 283.29 91.8 283.18 92.1 283.26 92.2 283.26 92.3 283.12 92.6 283.17 93.0 283.27 93.1 283.20 93.6 283.27 93.8 283.27 94.1 283.20 94.4 283.28 94.5 283.16 94.6 283.09 94.7 283.28 95.2 283.19 95.5 283.29 95.8 283.20 96.0 283.29 96.1 283.22 96.5 283.29 96.8 283.28 96.9 283.21 97.4 283.28 97.5 283.11 97.8 283.22 97.9 283.28 98.2 283.17 98.4 283.27 98.9 283.13 99.1 283.27 99.2 283.19 99.3 283.28 99.9 283.27 100.0 283.18 100.3 283.25 100.6 283.15 100.8 283.28 100.9 283.20 101.3 283.28 101.4 283.20 101.8 283.19 102.0 283.28 102.1 283.28 102.2 283.21 102.7 283.16 103.0 283.29 103.4 283.28 103.5 283.22 103.9 283.28 103.9 283.14 104.3 283.28 104.4 283.13 104.9 283.22 105.0 283.29 105.4 283.17 105.5 283.29 105.7 283.28 106.0 283.18 106.2 283.12 106.4 283.27 106.6 283.16 106.8 283.29 107.1 283.28 107.2 283.17 107.6 283.10 107.7 283.26 108.2 283.18 108.3 283.30 108.8 283.28 109.0 283.13 109.4 283.16 109.4 283.26 109.7 283.27 109.9 283.14 110.2 283.14 110.3 283.27 110.8 283.19 111.1 283.29 111.2 283.19 111.4 283.29 111.9 283.29 112.0 283.19 112.1 283.28 112.4 283.19 112.9 283.20 113.1 283.27 113.2 283.20 113.3 283.28 113.9 283.29 114.1 283.16 114.2 283.15 114.4 283.30 114.7 283.12 114.8 283.28 115.4 283.28 115.4 283.13 115.8 283.16 116.0 283.27 116.4 283.26 116.4 283.20 116.6 283.28 116.9 283.17 117.1 283.12 117.2 283.29 117.6 283.29 117.9 283.20 118.2 283.06 118.5 283.28 118.6 283.18 118.7 283.29 119.2 283.28 119.4 283.21 119.8 283.15 119.9 283.30 120.4 283.19 120.5 283.29 120.8 283.27 120.9 283.12 121.4 283.13 121.5 283.26 121.7 283.18 121.9 283.27 122.1 283.26 122.3 283.18 122.7 283.29 123.1 283.21 123.1 283.26 123.4 283.17 123.7 283.19 124.0 283.29 124.1 283.30 124.3 283.20 124.9 283.14 124.9 283.29 125.3 283.21 125.4 283.29 125.6 283.28 125.8 283.21 126.2 283.17 126.5 283.28 126.8 283.28 126.9 283.22 127.3 283.21 127.3 283.29 127.7 283.11 127.9 283.28 128.1 283.28 128.2 283.19 128.7 283.25 129.0 283.03 129.2 283.28 129.3 283.10 129.7 283.19 130.0 283.29 130.2 283.29 130.5 283.16 130.6 283.07 131.0 283.28 131.1 283.29 131.5 283.19 132.0 283.19 132.0 283.28 132.5 283.29 132.6 283.22 132.6 283.27 132.9 283.19 133.3 283.20 133.3 283.28 133.7 283.19 133.8 283.28 134.2 283.19 134.3 283.27 134.7 283.27 134.9 283.09 135.4 283.28 135.5 283.03 135.6 283.12 136.0 283.28 136.1 283.28 136.2 283.18 136.6 283.27 137.0 283.19 137.1 283.17 137.5 283.28 137.9 283.29 138.0 283.17 138.1 283.29 138.6 283.21 138.6 283.13 138.9 283.28 139.4 283.18 139.5 283.27 139.6 283.29 139.7 283.20 140.1 283.28 140.6 283.14 140.8 283.16 140.9 283.26 141.4 283.26 141.6 283.13 141.7 283.13 142.0 283.29 142.4 283.17 142.5 283.28 143.1 283.15 143.1 283.29 143.2 283.26 143.4 283.11 143.7 283.24 144.0 283.02 144.3 283.18 144.6 283.28 144.6 283.14 144.9 283.25 145.3 283.19 145.5 283.28 145.7 283.20 146.0 283.29 146.3 283.29 146.5 283.17 146.6 283.27 146.7 283.18 147.2 283.17 147.6 283.29 147.7 283.28 147.9 283.20 148.3 283.16 148.5 283.28 149.0 283.29 149.0 283.20 149.3 283.29 149.4 283.19 149.6 283.23 149.8 283.29 150.2 283.17 150.6 283.27 150.8 283.30 151.0 283.18 151.2 283.28 151.6 283.22 151.7 283.25 151.7 283.14 152.3 283.18 152.5 283.29 152.7 283.30 153.1 283.19 153.3 283.14 153.4 283.28 154.0 283.18 154.0 283.26 154.2 283.28 154.4 283.16 154.9 283.15 155.0 283.27 155.2 283.26 155.3 283.07 155.7 283.06 155.9 283.28 156.1 283.27 156.4 283.16 156.9 283.28 157.0 283.23 157.4 283.29 157.6 283.16 157.8 283.07 158.1 283.27 158.2 283.15 158.6 283.29 158.7 283.28 158.9 283.15 159.1 283.15 159.2 283.28 159.7 283.30 160.0 283.18 160.2 283.28 160.2 283.20 160.7 283.17 160.8 283.27 161.2 283.26 161.4 283.19 162.0 283.29 162.0 283.19 162.1 283.16 162.3 283.28 162.6 283.18 162.7 283.26 163.1 283.16 163.3 283.29 163.9 283.28 164.0 283.15 164.1 283.20 164.2 283.26 164.7 283.14 164.7 283.29 165.3 283.27 165.6 283.15 165.8 283.28 166.0 283.13 166.2 283.20 166.6 283.29 166.7 283.26 166.9 283.22 167.1 283.27 167.2 283.16 167.7 283.12 167.9 283.27 168.2 283.29 168.3 283.15 168.7 283.29 168.9 283.16 169.1 283.18 169.4 283.29 169.6 283.27 169.9 283.14 170.2 283.20 170.3 283.29 170.7 283.18 171.1 283.27 171.3 283.19 171.6 283.27 171.6 283.20 171.8 283.29 172.3 283.17 172.4 283.29 172.8 283.29 172.9 283.22 173.2 283.21 173.3 283.29 173.7 283.28 174.0 283.19 174.4 283.27 174.5 283.18 174.8 283.23 175.1 283.28 175.3 283.18 175.5 283.29 175.9 283.28 176.1 283.21 176.4 283.27 176.5 283.22 176.7 283.17 177.0 283.28 177.2 283.29 177.3 283.20 177.8 283.17 178.0 283.27 178.2 283.29 178.4 283.20 178.7 283.17 179.0 283.29 179.2 283.27 179.5 283.16 179.6 283.29 179.7 283.17 180.2 283.28 180.6 283.17 180.6 283.21 181.0 283.28 181.1 283.26 181.5 283.15 182.0 283.28 182.1 283.16 182.2 283.28 182.5 283.16 183.0 283.20 183.1 283.29 183.1 283.17 183.3 283.27 183.8 283.28 184.0 283.15 184.3 283.28 184.5 283.18 184.9 283.19 185.0 283.28 185.2 283.29 185.4 283.16 185.9 283.21 185.9 283.28 186.2 283.27 186.2 283.16 186.6 283.29 186.7 283.13 187.2 283.27 187.4 283.18 187.6 283.16 188.0 283.28 188.2 283.17 188.6 283.27 188.7 283.28 189.1 283.15 189.4 283.18 189.4 283.27 190.0 283.28 190.1 283.16 190.1 283.17 190.5 283.27 190.7 283.27 190.8 283.19 191.2 283.08 191.4 283.26 191.9 283.19 192.0 283.28 192.3 283.16 192.4 283.29 192.7 283.17 193.1 283.28 193.3 283.19 193.3 283.29 193.6 283.18 193.8 283.27 194.3 283.19 194.4 283.29 194.6 283.28 195.1 283.18 195.1 283.26 195.4 283.17 195.8 283.12 195.9 283.23 196.4 283.20 196.5 283.28 196.8 283.27 197.0 283.20 197.3 283.20 197.4 283.28 197.6 283.29 197.8 283.19 198.3 283.21 198.4 283.30 198.6 283.16 198.7 283.28 199.3 283.29 199.4 283.17 200.0 283.27 200.1 283.19 200.1 283.27 200.6 283.19 200.7 283.14 200.9 283.25 201.2 283.21 201.4 283.26 201.7 283.13 202.0 283.28 202.3 283.30 202.3 283.11 202.8 283.14 202.9 283.26 203.4 283.29 203.5 283.16 203.7 283.17 204.0 283.28 204.2 283.25 204.3 283.10 204.8 283.28 204.9 283.08 205.1 283.24 205.4 283.06 205.7 282.99 206.0 283.25 206.1 282.93 206.3 283.21 206.8 283.08 207.0 283.25 207.5 283.17 207.5 283.28 207.7 283.28 208.1 283.19 208.4 282.99 208.6 283.23 208.7 283.08 208.8 283.26 209.4 283.22 209.5 283.04 209.7 283.05 209.8 283.23 210.1 283.19 210.4 283.01 210.8 282.74 211.0 283.09 211.1 283.02 211.6 282.15 211.6 282.22 212.1 281.54 212.1 280.67 212.5 282.44 212.6 282.26 213.1 283.05 213.1 283.03 213.5 283.15 213.7 283.16 214.1 282.60 214.3 283.22 214.3 282.89 214.6 283.02 214.9 283.23 215.3 282.93 215.5 283.25 215.8 283.23 216.0 283.29 216.2 283.18 216.6 283.27 217.0 283.15 217.1 283.27 217.1 283.17 217.2 283.28 217.7 283.28 218.0 283.07 218.2 283.24 218.3 283.04 218.7 283.17 218.8 282.93 219.2 283.16 219.5 283.29 219.8 283.21 220.0 283.29 220.2 283.13 220.2 283.23 220.6 283.29 221.0 283.14 221.3 283.30 221.4 283.08 221.6 283.25 222.0 282.98 222.4 282.91 222.4 283.21 222.6 283.29 222.7 283.09 223.2 283.29 223.4 283.10 223.8 283.25 224.0 283.10 224.2 283.27 224.6 283.00 224.7 283.21 224.8 282.89 225.3 283.10 225.5 283.26 225.8 283.19 225.9 283.27 226.2 283.29 226.4 283.18 226.9 283.27 227.1 283.14 227.1 283.26 227.5 283.11 227.6 283.13 227.8 283.26 228.4 283.28 228.4 283.18 229.0 283.22 229.1 283.29 229.4 283.28 229.6 283.08 230.0 283.27 230.0 283.06 230.2 283.16 230.3 283.28 230.8 282.66 231.1 283.22 231.1 282.93 231.6 283.28 231.7 283.25 232.0 283.16 232.2 283.28 232.6 282.97 232.8 282.86 232.9 283.28 233.2 283.04 233.3 283.28 233.9 283.19 234.0 283.03 234.4 282.99 234.5 283.24 234.7 282.93 235.0 283.29 235.2 283.29 235.5 283.01 235.7 283.25 235.9 282.98 236.2 283.02 236.3 283.25 236.8 283.26 236.9 283.03 237.2 283.17 237.5 282.83 237.6 282.72 238.1 283.26 238.1 282.87 238.4 283.26 238.6 282.83 238.8 283.20 239.4 283.27 239.6 282.82 239.7 283.14 239.9 282.77 240.4 282.91 240.4 283.28 240.6 283.25 240.8 282.98 241.1 283.25 241.4 282.83 241.8 283.19 242.1 282.57 242.3 282.92 242.4 283.26 242.6 283.21 243.0 282.83 243.1 283.19 243.2 282.58 243.6 283.26 243.8 282.78 244.1 282.83 244.2 283.24 244.7 283.29 245.0 282.91 245.5 282.83 245.6 283.25 245.7 282.94 245.9 283.16 246.4 282.85 246.6 283.23 246.6 282.96 246.8 283.23 247.4 283.01 247.5 283.26 247.7 283.08 248.0 283.26 248.4 282.89 248.6 283.27 248.7 283.28 248.8 283.15 249.1 283.27 249.4 283.06 249.6 283.26 250.1 282.89 250.2 283.11 250.5 283.27 250.6 283.14 251.1 283.25 251.2 283.07 251.2 283.26 251.7 283.10 251.8 283.30 252.1 283.29 252.6 282.97 252.6 283.04 253.0 283.28 253.3 283.27 253.5 283.15 253.6 283.28 254.0 283.17 254.2 283.09 254.5 283.29 254.6 283.25 255.0 282.66 255.2 283.00 255.6 283.27 256.0 283.25 256.1 283.11 256.1 283.25 256.3 282.92 256.8 282.91 256.9 283.25 257.3 283.04 257.5 283.28 257.9 283.19 258.0 282.98 258.2 283.04 258.5 283.27 258.7 283.28 259.0 283.21 259.4 283.12 259.6 283.26 259.7 283.20 260.0 283.27 260.1 283.29 260.4 283.17 260.6 283.28 261.1 283.19 261.3 283.29 261.4 283.20 261.7 283.29 261.9 283.11 262.3 283.29 262.6 283.20 262.8 282.95 263.1 283.28 263.4 283.18 263.5 283.28 263.8 283.10 263.9 283.29 264.3 283.29 264.6 283.02 264.8 282.76 265.1 283.23 265.4 283.28 265.5 283.01 266.0 283.29 266.1 283.18 266.3 282.87 266.5 283.22 266.6 283.29 267.1 283.04 267.4 283.04 267.5 283.23 267.8 283.28 267.9 283.05 268.2 283.24 268.5 282.84 268.8 283.22 269.0 282.86 269.1 283.14 269.3 283.28 269.8 283.29 270.0 283.13 270.2 283.08 270.5 283.24 271.0 283.27 271.1 282.77 271.2 282.60 271.6 283.14 271.6 283.26 272.0 282.88 272.2 282.96 272.5 283.23 272.6 283.22 273.1 282.87 273.1 283.03 273.6 281.29 273.6 280.05 274.0 283.17 274.1 283.08 274.3 283.23 274.7 283.13 274.8 283.24 275.4 283.23 275.5 283.13 275.6 282.99 275.9 283.23 276.2 283.15 276.6 282.90 276.9 282.77 277.0 283.02 277.1 283.04 277.6 282.29 277.6 282.30 277.9 282.84 278.2 282.79 278.5 282.39 278.6 282.63 279.0 281.18 279.2 281.26 279.5 282.15 279.7 282.03 280.1 280.91 280.1 280.54 280.6 271.91 280.8 211.66 281.1 275.02 281.1 276.49 281.6 281.48 281.6 281.66 282.0 282.56 282.3 282.71 282.5 281.63 282.7 282.21 282.9 283.06 283.3 282.57 283.5 283.16 283.9 282.75 283.9 283.18 284.2 282.22 284.5 282.98 284.9 283.12 285.0 282.54 285.2 282.63 285.6 283.25 285.8 283.24 286.1 283.14 286.2 283.23 286.3 282.52 286.7 282.57 287.0 283.09 287.3 282.95 287.4 283.24 287.6 283.24 288.1 281.96 288.1 282.35 288.5 283.25 288.8 283.15 289.1 283.27 289.2 283.18 289.6 283.26 289.7 283.28 289.8 283.22 290.3 283.15 290.3 283.28 290.8 283.28 291.1 283.18 291.2 283.28 291.5 283.22 291.9 283.28 292.0 283.15 292.3 283.26 292.6 283.14 292.6 283.15 293.1 283.28 293.2 283.28 293.4 283.19 293.9 283.26 294.0 283.18 294.2 283.29 294.4 283.20 294.7 283.28 295.0 283.17 295.1 283.29 295.3 283.10 295.8 283.16 295.9 283.26 296.2 283.28 296.4 283.17 296.8 283.11 296.9 283.29 297.2 283.26 297.6 283.15 297.7 283.25 298.0 283.16 298.3 283.29 298.6 283.12 298.7 283.12 298.9 283.29 299.2 283.26 299.5 283.22 299.7 283.15 299.9 283.29 300.4 283.27 300.5 283.18 300.9 283.09 301.0 283.25 301.1 283.30 301.2 283.19 301.7 283.27 301.8 283.17 302.3 283.17 302.4 283.28 302.8 283.27 303.0 283.15 303.4 283.26 303.4 283.17 304.0 283.27 304.0 283.02 304.4 283.09 304.5 283.27 304.9 283.28 305.0 283.10 305.2 283.20 305.6 283.28 305.7 283.29 306.1 283.15 306.1 283.27 306.2 282.98 306.8 283.23 306.9 282.96 307.1 283.19 307.3 283.29 307.6 283.27 308.1 283.17 308.3 283.27 308.5 283.20 308.7 283.28 309.1 283.06 309.1 283.27 309.4 283.08 309.7 283.22 310.0 283.28 310.1 283.19 310.5 283.29 310.9 283.20 311.0 283.28 311.3 283.25 311.5 283.14 311.9 282.95 312.0 283.27 312.2 282.96 312.4 283.29 312.7 283.29 313.1 282.97 313.2 282.86 313.5 283.27 313.6 283.29 313.9 283.14 314.3 282.98 314.5 283.25 314.9 283.28 315.0 283.06 315.3 283.26 315.4 283.10 316.0 282.93 316.1 283.25 316.3 283.26 316.5 282.65 316.7 282.38 317.1 283.25 317.1 282.89 317.6 283.23 317.9 283.23 318.0 282.97 318.3 282.85 318.5 283.18 318.8 283.23 319.1 282.74 319.2 282.98 319.5 283.28 319.7 283.25 319.9 282.92 320.3 282.78 320.4 283.23 320.6 283.24 321.0 282.54 321.2 282.63 321.5 283.16 322.0 282.99 322.1 283.26 322.3 282.25 322.4 283.20 322.7 283.26 323.1 282.97 323.3 282.91 323.6 283.26 323.9 283.28 323.9 283.01 324.5 283.01 324.6 283.25 324.6 282.80 324.9 283.19 325.2 283.24 325.3 282.92 325.6 283.05 325.7 283.27 326.1 283.25 326.4 282.97 326.7 283.19 327.0 283.03 327.2 283.26 327.5 283.12 327.7 283.28 327.9 283.02 328.1 282.59 328.2 283.13 328.8 283.28 329.0 283.07 329.3 282.84 329.3 283.25 329.7 283.02 329.9 283.27 330.1 283.29 330.5 283.05 330.8 283.24 331.0 283.01 331.1 282.78 331.5 283.20 331.9 283.06 332.1 283.29 332.2 283.29 332.6 283.14 332.9 283.28 333.0 283.13 333.4 283.14 333.5 283.29 333.7 283.26 334.0 283.14 334.3 283.28 334.5 283.21 334.8 283.29 335.0 282.89 335.1 283.26 335.2 282.61 335.7 283.09 335.8 283.28 336.1 283.26 336.3 283.13 336.6 283.19 337.0 283.30 337.2 283.27 337.4 283.18 337.6 283.18 337.9 283.29 338.2 283.29 338.4 283.17 338.6 283.15 339.1 283.25 339.2 283.28 339.6 283.12 339.7 283.05 339.9 283.27 340.2 283.27 340.5 282.97 340.6 282.99 340.7 283.24 341.2 282.96 341.4 283.27 341.7 283.18 341.9 283.25 342.3 283.23 342.4 283.29 342.8 283.28 343.1 283.11 343.3 283.25 343.5 282.96 343.7 282.98 343.8 283.25 344.1 283.07 344.2 283.28 344.7 282.92 345.0 283.26 345.1 283.26 345.3 283.08 345.8 283.26 345.9 283.14 346.3 283.26 346.6 283.18 346.7 283.22 347.0 283.05 347.2 283.16 347.3 283.01 347.7 283.15 348.0 282.93 348.2 283.08 348.6 282.19 348.9 282.44 349.1 281.95 349.2 280.79 349.5 282.34 349.8 282.17 350.1 282.99 350.1 282.99 350.6 283.17 350.7 283.17 351.1 283.09 351.2 283.02 351.5 283.22 351.7 283.23 352.1 283.27 352.1 283.26 352.6 283.13 352.8 283.04 352.9 283.26 353.2 283.08 353.6 283.28 353.7 283.26 353.8 283.29 354.1 283.29 354.6 283.21 354.6 283.28 355.0 283.14 355.1 283.20 355.4 283.26 355.9 283.28 356.0 283.19 356.2 283.28 356.3 283.16 356.7 283.19 356.9 283.29 357.1 283.29 357.3 283.17 357.7 283.21 357.8 283.28 358.4 283.27 358.6 283.18 358.7 283.19 358.9 283.30 359.1 283.28 359.4 283.23 359.7 283.22 359.8 283.29 360.1 283.23 360.6 283.28 360.8 283.27 360.9 283.20 361.2 283.16 361.5 283.28 361.8 283.22 362.0 283.29 362.1 283.27 362.5 283.18 362.7 283.28 362.9 283.20 363.3 283.21 363.5 283.27 364.0 283.22 364.1 283.29 364.3 283.17 364.4 283.28 364.7 283.28 364.9 283.22 365.2 283.23 365.5 283.28 365.9 283.29 365.9 283.24 366.3 283.22 366.4 283.29 366.7 283.29 366.9 283.25 367.5 283.29 367.5 283.22 367.7 283.25 367.9 283.29 368.2 283.29 368.4 283.22 368.8 283.23 369.0 283.29 369.2 283.28 369.3 283.21 369.7 283.23 370.0 283.30 370.4 283.28 370.5 283.21 370.6 283.29 370.7 283.20 371.4 283.21 371.5 283.28 371.9 283.21 372.0 283.26 372.1 283.28 372.5 283.21 372.8 283.30 372.9 283.24 373.2 283.22 373.4 283.28 373.9 283.29 374.0 283.21 374.5 283.28 374.6 283.23 375.0 283.20 375.1 283.28 375.2 283.18 375.4 283.29 375.7 283.19 376.0 283.30 376.5 283.29 376.6 283.23 376.7 283.23 376.9 283.30 377.3 283.29 377.4 283.23 377.8 283.22 377.9 283.28 378.2 283.20 378.5 283.29 378.6 283.27 379.0 283.24 379.1 283.28 379.3 283.20 379.8 283.21 379.9 283.29 380.2 283.22 380.3 283.30 380.8 283.29 380.9 283.21 381.3 283.29 381.5 283.21 381.7 283.25 381.9 283.28 382.2 283.24 382.6 283.29 383.0 283.21 383.0 283.29 383.3 283.29 383.4 283.24 383.8 283.29 383.9 283.23 384.2 283.28 384.4 283.22 384.7 283.25 385.0 283.28 385.1 283.29 385.2 283.22 385.8 283.21 386.0 283.29 386.1 283.28 386.4 283.21 386.6 283.21 386.8 283.28 387.2 283.29 387.3 283.22 387.9 283.30 388.0 283.23 388.1 283.29 388.3 283.23 388.7 283.23 388.9 283.29 389.3 283.22 389.5 283.27 389.9 283.22 390.1 283.29 390.3 283.28 390.4 283.22 390.8 283.18 390.8 283.29 391.4 283.22 391.4 283.29 391.7 283.30 391.8 283.23 392.2 283.28 392.5 283.22 392.9 283.21 393.0 283.28 393.4 283.25 393.5 283.28 393.6 283.29 393.8 283.24 394.4 283.24 394.5 283.29 394.6 283.28 394.7 283.23 395.3 283.23 395.4 283.29 395.6 283.29 396.0 283.21 396.4 283.28 396.4 283.22 396.7 283.28 397.1 283.22 397.1 283.21 397.5 283.29 397.9 283.24 398.1 283.28 398.5 283.29 398.6 283.21 398.6 283.28 398.8 283.25 399.3 283.23 399.5 283.29 399.8 283.23 400.0 283.29 400.1 283.29 400.4 283.21 400.7 283.29 401.0 283.26 401.1 283.29 401.4 283.22 402.0 283.27 402.1 283.20 402.3 283.29 402.4 283.22 402.6 283.29 402.9 283.22 403.4 283.20 403.5 283.30 403.9 283.28 404.0 283.22 404.1 283.24 404.3 283.29 404.6 283.23 404.9 283.30 405.3 283.22 405.3 283.30 405.7 283.23 405.8 283.29 406.4 283.21 406.6 283.27 406.6 283.29 407.1 283.21 407.2 283.21 407.4 283.29 407.8 283.22 407.9 283.29 408.4 283.29 408.5 283.23 408.9 283.29 409.1 283.24 409.3 283.30 409.6 283.22 409.6 283.22 410.0 283.29 410.2 283.28 410.3 283.21 410.9 283.24 411.0 283.29 411.2 283.25 411.3 283.29 411.8 283.23 411.9 283.27 412.2 283.26 412.2 283.29 412.6 283.20 412.9 283.30 413.5 283.21 413.6 283.27 413.6 283.23 413.9 283.29 414.2 283.27 414.3 283.24 414.6 283.30 414.9 283.23 415.3 283.28 415.4 283.22 415.7 283.28 416.0 283.23 416.1 283.28 416.4 283.23 416.7 283.21 417.1 283.29 417.3 283.11 417.6 283.28 417.9 283.24 418.1 283.13 418.4 283.15 418.6 283.28 418.8 283.28 418.8 283.18 419.1 283.29 419.4 283.18 419.9 283.20 420.0 283.27 420.4 283.23 420.4 283.29 420.7 283.23 420.8 283.29 421.4 283.24 421.6 283.29 421.7 283.23 422.1 283.29 422.2 283.29 422.6 283.19 422.7 283.27 423.1 283.22 423.2 283.23 423.5 283.28 423.8 283.22 423.8 283.28 424.1 283.21 424.3 283.29 425.0 283.28 425.1 283.24 425.1 283.29 425.6 283.24 425.7 283.22 425.9 283.29 426.3 283.20 426.6 283.29 426.8 283.22 427.0 283.29 427.4 283.29 427.5 283.22 427.8 283.29 428.1 283.22 428.3 283.28 428.5 283.25 428.7 283.30 428.9 283.23 429.4 283.29 429.6 283.22 429.9 283.25 430.1 283.29 430.3 283.23 430.3 283.28 430.7 283.22 430.8 283.29 431.5 283.28 431.6 283.22 431.7 283.20 431.8 283.29 432.2 283.29 432.6 283.22 432.6 283.24 432.7 283.29 433.1 283.29 433.4 283.21 433.7 283.23 434.0 283.29 434.2 283.29 434.4 283.21 435.0 283.28 435.1 283.24 435.3 283.22 435.4 283.29 436.0 283.24 436.1 283.29 436.1 283.24 436.5 283.28 436.8 283.22 436.9 283.28 437.2 283.22 437.6 283.28 437.9 283.22 438.0 283.29 438.4 283.29 438.5 283.24 438.6 283.29 438.8 283.19 439.2 283.20 439.4 283.29 439.9 283.29 440.0 283.22 440.3 283.28 440.4 283.24 441.0 283.29 441.0 283.22 441.3 283.29 441.4 283.22 441.6 283.27 442.0 283.18 442.2 283.28 442.6 283.20 442.7 283.29 443.0 283.21 443.1 283.24 443.4 283.28 443.9 283.29 444.0 283.25 444.2 283.24 444.5 283.29 444.6 283.24 444.8 283.30 445.1 283.28 445.3 283.24 445.7 283.22 446.1 283.29 446.2 283.23 446.2 283.29 446.6 283.21 447.0 283.30 447.3 283.24 447.4 283.30 448.0 283.29 448.1 283.23 448.4 283.23 448.4 283.29 448.9 283.21 449.0 283.30 449.4 283.29 449.4 283.24 449.8 283.29 449.8 283.24 450.2 283.23 450.4 283.30 450.7 283.29 451.0 283.24 451.5 283.20 451.5 283.29 451.7 283.21 452.1 283.28 452.3 283.29 452.4 283.20 452.6 283.22 452.8 283.29 453.2 283.22 453.6 283.28 453.7 283.29 454.0 283.22 454.2 283.22 454.6 283.28 454.8 283.23 454.9 283.29 455.2 283.29 455.3 283.22 455.9 283.20 456.1 283.29 456.3 283.30 456.4 283.22 456.6 283.21 456.7 283.29 457.2 283.29 457.3 283.25 457.7 283.24 457.9 283.28 458.5 283.29 458.6 283.25 458.9 283.29 458.9 283.24 459.2 283.22 459.5 283.29 459.7 283.29 459.8 283.22 460.1 283.30 460.4 283.24 461.0 283.29 461.0 283.21 461.3 283.23 461.5 283.28 461.7 283.29 461.8 283.23 462.2 283.21 462.4 283.26 462.6 283.28 462.9 283.22 463.5 283.22 463.6 283.29 463.7 283.28 463.8 283.23 464.1 283.22 464.6 283.29 464.7 283.23 465.0 283.29 465.4 283.30 465.5 283.19 465.6 283.30 466.1 283.20 466.2 283.22 466.5 283.28 466.7 283.20 466.8 283.29 467.2 283.25 467.5 283.29 467.9 283.23 467.9 283.29 468.2 283.19 468.4 283.29 468.8 283.23 468.9 283.29 469.1 283.29 469.2 283.22 469.7 283.29 470.1 283.23 470.5 283.24 470.6 283.29 470.7 283.23 470.8 283.30 471.2 283.19 471.5 283.30 471.8 283.21 472.1 283.28 472.4 283.29 472.5 283.23 472.7 283.28 472.7 283.22 473.2 283.22 473.3 283.30 473.9 283.29 474.0 283.23 474.4 283.23 474.4 283.26 474.8 283.28 474.9 283.22 475.2 283.29 475.5 283.22 475.9 283.22 476.0 283.29 476.2 283.29 476.5 283.23 476.8 283.23 476.9 283.29 477.1 283.20 477.4 283.29 477.9 283.20 477.9 283.29 478.4 283.24 478.5 283.28 479.0 283.24 479.1 283.29 479.3 283.30 479.4 283.23 479.9 283.28 480.0 283.22 480.1 283.20 480.3 283.29 481.0 283.28 481.0 283.23 481.2 283.22 481.6 283.28 481.9 283.28 481.9 283.22 482.3 283.23 482.5 283.29 482.8 283.23 482.9 283.29 483.1 283.29 483.2 283.23 484.0 283.28 484.1 283.24 484.1 283.29 484.2 283.23 484.6 283.23 485.1 283.29 485.4 283.29 485.5 283.24 485.7 283.24 485.8 283.28 486.4 283.24 486.5 283.28 486.8 283.29 487.0 283.24 487.3 283.22 487.5 283.28 488.0 283.23 488.1 283.29 488.2 283.28 488.5 283.22 488.8 283.29 488.9 283.24 489.2 283.24 489.4 283.30 489.6 283.29 490.0 283.24 490.2 283.21 490.5 283.29 490.7 283.25 491.0 283.29 491.3 283.24 491.6 283.30 491.8 283.28 492.1 283.22 492.1 283.28 492.3 283.25 492.7 283.29 493.1 283.22 493.2 283.29 493.5 283.22 493.8 283.22 494.1 283.30 494.1 283.29 494.6 283.23 494.8 283.28 494.8 283.23 495.2 283.29 495.4 283.25 495.7 283.20 496.0 283.28 496.3 283.29 496.3 283.20 496.8 283.22 496.9 283.27 497.1 283.21 497.4 283.29 498.0 283.23 498.0 283.29 498.3 283.29 498.5 283.22 498.8 283.29 499.1 283.23 499.3 283.29 499.5 283.19 499.7 283.21 500.1 283.27 500.4 283.25 500.5 283.29 500.9 283.20 501.0 283.29 501.3 283.21 501.6 283.28 501.9 283.29 502.0 283.23 502.1 283.21 502.4 283.30 502.9 283.29 503.0 283.22 503.4 283.20 503.6 283.29 503.6 283.29 504.0 283.23 504.2 283.29 504.4 283.21 504.7 283.21 504.9 283.30 505.2 283.29 505.3 283.23 505.8 283.28 505.8 283.21 506.3 283.28 506.4 283.21 506.6 283.24 507.0 283.29 507.3 283.22 507.4 283.29 507.6 283.23 508.0 283.29 508.3 283.29 508.3 283.22 508.8 283.29 509.1 283.22 509.2 283.19 509.6 283.28 509.7 283.28 509.9 283.24 510.1 283.28 510.2 283.20 510.6 283.29 511.0 283.18 511.5 283.30 511.6 283.19 511.7 283.28 511.8 283.21 512.2 283.24 512.4 283.29 512.8 283.28 512.8 283.23 513.2 283.24 513.4 283.29 513.7 283.22 514.0 283.28 514.2 283.29 514.4 283.24 514.8 283.20 515.1 283.29 515.4 283.29 515.5 283.22 515.6 283.29 515.9 283.24 516.2 283.29 516.6 283.22 516.9 283.29 516.9 283.23 517.4 283.28 517.6 283.25 517.7 283.23 517.8 283.30 518.2 283.23 518.4 283.29 518.7 283.19 519.0 283.28 519.1 283.28 519.4 283.24 519.9 283.28 520.0 283.24 520.2 283.28 520.3 283.19 520.7 283.29 520.9 283.23 521.2 283.29 521.4 283.23 521.7 283.28 521.8 283.22 522.2 283.29 522.4 283.23 522.6 283.28 522.9 283.21 523.4 283.28 523.6 283.20 524.0 283.29 524.0 283.19 524.2 283.29 524.6 283.23 524.7 283.20 524.8 283.29 525.1 283.21 525.2 283.27 525.7 283.29 525.9 283.21 526.3 283.28 526.4 283.22 526.6 283.20 527.0 283.29 527.3 283.21 527.6 283.29 527.8 283.27 527.9 283.23 528.1 283.29 528.3 283.23 528.7 283.23 529.0 283.29 529.4 283.29 529.4 283.20 529.8 283.29 529.9 283.24 530.2 283.29 530.5 283.24 530.8 283.23 530.8 283.29 531.4 283.27 531.6 283.23 531.8 283.28 531.9 283.24 532.3 283.28 532.4 283.23" stroke="#0072BD" stroke-width="0.65" fill="none" stroke-linejoin="round"/>
<text x="289.55" y="319.50" text-anchor="middle" font-size="13.7">Frequency [Hz]</text>
<text x="289.55" y="337.50" text-anchor="middle" font-size="13.7">(b)</text>
<text transform="translate(28.0 233.35) rotate(-90)" text-anchor="middle" font-size="13.7">Amplitude [A]</text>
<text x="289.4" y="202.9" font-size="12.7">48.2 Hz</text>
<text x="289.4" y="219.3" font-size="12.7">2.51 A</text>
<path d="M127.58 357.90V457.80M208.57 357.90V457.80M289.55 357.90V457.80M370.53 357.90V457.80M451.52 357.90V457.80" stroke="#262626" stroke-opacity="0.095" stroke-width="1" fill="none"/>
<path d="M46.60 407.85H532.50" stroke="#262626" stroke-opacity="0.095" stroke-width="1" fill="none"/>
<clipPath id="c3"><rect x="46.60" y="357.90" width="485.90" height="99.90"/></clipPath>
<path d="M46.60 457.80v-4.90M46.60 357.90v4.90M127.58 457.80v-4.90M127.58 357.90v4.90M208.57 457.80v-4.90M208.57 357.90v4.90M289.55 457.80v-4.90M289.55 357.90v4.90M370.53 457.80v-4.90M370.53 357.90v4.90M451.52 457.80v-4.90M451.52 357.90v4.90M532.50 457.80v-4.90M532.50 357.90v4.90M46.60 457.80h4.90M532.50 457.80h-4.90M46.60 407.85h4.90M532.50 407.85h-4.90M46.60 357.90h4.90M532.50 357.90h-4.90" stroke="#262626" stroke-width="0.55" fill="none"/>
<rect x="46.60" y="357.90" width="485.90" height="99.90" stroke="#262626" stroke-width="0.55" fill="none"/>
<text x="46.20" y="476.40" text-anchor="middle">20</text>
<text x="127.18" y="476.40" text-anchor="middle">30</text>
<text x="208.17" y="476.40" text-anchor="middle">40</text>
<text x="289.15" y="476.40" text-anchor="middle">50</text>
<text x="370.13" y="476.40" text-anchor="middle">60</text>
<text x="451.12" y="476.40" text-anchor="middle">70</text>
<text x="532.10" y="476.40" text-anchor="middle">80</text>
<text x="40.90" y="463.20" text-anchor="end">0</text>
<text x="40.90" y="413.25" text-anchor="end">0.1</text>
<text x="40.90" y="363.30" text-anchor="end">0.2</text>
<path d="M46.60 455.9 46.84 453.0 46.92 452.9 47.00 454.5 47.25 456.5 47.33 455.9 47.41 455.6 47.57 456.6 47.65 457.4 47.81 456.5 47.90 457.4 47.98 455.0 48.14 456.9 48.30 455.8 48.46 457.0 48.54 456.0 48.62 456.3 48.71 455.7 48.95 456.2 49.03 457.3 49.11 455.9 49.19 457.1 49.43 456.1 49.52 457.5 49.76 457.3 49.84 456.0 49.92 457.3 50.08 456.4 50.24 457.0 50.33 457.7 50.41 456.6 50.57 457.4 50.73 456.8 50.81 457.7 50.89 457.0 51.05 455.9 51.14 455.5 51.30 457.0 51.38 457.3 51.54 455.6 51.62 455.6 51.78 456.6 51.94 456.9 52.03 455.9 52.19 456.9 52.27 455.5 52.51 457.4 52.59 456.4 52.75 456.5 52.84 456.1 52.92 457.7 53.00 456.3 53.16 457.5 53.32 456.6 53.40 456.1 53.56 457.5 53.73 456.2 53.81 457.0 53.89 457.2 54.05 455.3 54.13 455.6 54.21 456.0 54.46 456.3 54.54 457.5 54.62 456.7 54.70 456.4 54.86 456.6 55.02 457.3 55.27 457.6 55.35 456.0 55.43 457.6 55.51 457.1 55.75 457.7 55.83 455.9 55.91 455.8 56.08 457.6 56.24 457.0 56.32 456.6 56.48 456.8 56.56 457.6 56.72 457.5 56.80 457.0 56.88 457.2 57.05 456.7 57.13 456.8 57.21 456.5 57.37 455.5 57.45 457.2 57.61 456.4 57.69 457.1 57.94 457.3 58.10 457.1 58.26 456.2 58.34 457.7 58.50 455.8 58.59 456.5 58.67 455.7 58.83 457.5 58.91 457.5 59.07 456.5 59.15 457.2 59.23 456.6 59.40 457.3 59.56 456.4 59.72 455.9 59.80 457.0 59.88 455.0 59.96 455.5 60.12 456.0 60.29 456.4 60.37 456.2 60.53 457.0 60.61 456.8 60.77 455.7 60.93 455.7 61.10 457.3 61.18 457.7 61.34 456.6 61.42 457.8 61.50 456.5 61.74 457.1 61.82 456.2 61.99 457.6 62.07 455.9 62.23 457.2 62.31 455.5 62.47 455.0 62.55 457.2 62.63 457.4 62.72 457.1 62.88 457.2 62.96 456.1 63.12 455.8 63.28 456.6 63.36 456.7 63.44 457.0 63.61 455.8 63.69 457.0 63.93 457.5 64.01 456.4 64.25 455.3 64.34 457.0 64.50 455.5 64.58 456.2 64.66 457.0 64.74 455.2 64.90 455.8 64.98 457.0 65.15 455.1 65.23 457.2 65.39 455.7 65.47 456.4 65.63 457.2 65.71 456.0 65.87 453.7 65.96 457.0 66.12 456.6 66.20 455.1 66.36 456.9 66.44 453.6 66.68 456.0 66.85 457.5 66.93 457.0 67.01 455.9 67.17 457.3 67.25 456.1 67.49 456.7 67.57 455.4 67.74 456.3 67.82 457.0 67.98 457.2 68.06 457.5 68.22 457.5 68.30 457.3 68.38 457.5 68.55 457.0 68.63 457.3 68.71 456.5 68.87 457.5 69.03 455.9 69.11 456.9 69.28 457.7 69.52 457.1 69.60 455.3 69.76 455.3 69.84 456.5 70.00 453.8 70.09 456.4 70.17 455.7 70.33 456.6 70.41 457.2 70.57 455.2 70.65 457.1 70.81 456.4 70.90 455.9 70.98 457.3 71.22 457.5 71.30 457.2 71.38 456.9 71.46 457.4 71.70 456.8 71.79 455.2 71.87 456.3 71.95 456.8 72.19 455.2 72.27 457.5 72.35 457.3 72.60 456.6 72.76 457.0 72.84 456.6 73.00 456.4 73.08 456.8 73.16 457.8 73.24 456.9 73.49 456.5 73.57 456.5 73.65 455.7 73.73 457.4 73.89 457.4 73.97 456.0 74.22 456.9 74.30 456.4 74.38 457.4 74.46 456.1 74.62 456.1 74.78 457.2 74.86 455.6 75.03 457.3 75.11 456.0 75.35 456.7 75.43 456.0 75.51 457.1 75.67 457.2 75.75 456.9 76.00 455.9 76.08 456.8 76.24 456.7 76.32 457.0 76.48 456.8 76.56 457.1 76.64 456.2 76.81 456.7 76.89 457.6 77.05 455.8 77.13 456.0 77.21 455.3 77.37 456.8 77.45 457.5 77.62 456.0 77.78 457.1 77.86 456.5 78.02 455.6 78.10 457.1 78.35 456.6 78.43 457.0 78.51 456.1 78.67 456.7 78.83 455.4 78.99 457.0 79.07 457.5 79.16 457.6 79.32 456.3 79.48 456.6 79.56 457.4 79.72 457.0 79.80 456.9 79.88 455.3 80.05 456.7 80.13 457.5 80.29 455.2 80.45 455.4 80.53 456.0 80.61 456.4 80.69 457.1 81.02 456.2 81.10 456.7 81.26 456.5 81.34 455.9 81.42 455.0 81.50 457.6 81.75 457.3 81.83 455.7 81.91 456.7 81.99 457.0 82.15 457.0 82.23 456.1 82.48 457.3 82.56 456.4 82.72 456.9 82.80 456.7 82.88 457.2 83.04 455.2 83.20 455.4 83.29 457.4 83.37 457.2 83.45 456.7 83.61 454.8 83.77 456.5 83.93 457.4 84.01 456.0 84.18 457.4 84.34 456.6 84.50 456.1 84.58 457.6 84.66 456.8 84.74 457.1 84.99 456.5 85.07 457.1 85.15 456.4 85.23 457.1 85.47 457.2 85.55 455.4 85.71 456.6 85.80 457.2 85.88 456.5 86.04 456.4 86.12 456.0 86.28 457.1 86.44 457.2 86.52 454.7 86.69 455.4 86.85 457.3 86.93 456.8 87.01 456.8 87.25 455.5 87.33 457.6 87.42 455.1 87.50 456.5 87.66 457.2 87.74 455.6 87.90 455.7 88.06 457.6 88.14 457.2 88.31 456.0 88.39 455.4 88.47 457.6 88.71 455.5 88.79 456.8 88.87 455.7 89.04 457.1 89.12 457.5 89.28 456.7 89.36 457.6 89.44 455.9 89.60 456.7 89.68 457.4 89.93 455.7 90.01 456.8 90.17 455.1 90.25 457.2 90.41 457.1 90.49 456.9 90.65 456.0 90.74 457.6 90.90 457.0 91.06 456.0 91.14 456.1 91.22 457.5 91.38 456.9 91.55 455.8 91.63 456.8 91.71 456.9 91.87 457.1 92.03 455.9 92.11 457.2 92.27 455.9 92.44 455.9 92.52 457.0 92.68 456.9 92.84 456.8 92.92 457.2 93.00 456.0 93.25 456.1 93.33 457.5 93.41 456.0 93.49 456.8 93.73 456.7 93.81 456.5 93.98 456.4 94.06 457.5 94.14 455.6 94.22 457.6 94.38 457.5 94.54 455.9 94.62 456.5 94.70 456.9 94.95 456.5 95.03 457.6 95.11 456.5 95.19 457.4 95.35 456.5 95.51 457.6 95.68 456.3 95.76 457.7 95.92 456.3 96.00 457.2 96.16 457.3 96.32 456.7 96.40 457.4 96.49 456.2 96.73 457.2 96.81 456.6 96.89 455.9 96.97 457.4 97.21 456.9 97.30 455.9 97.38 456.4 97.54 457.3 97.62 457.3 97.78 455.7 97.86 455.8 98.02 456.8 98.11 457.0 98.27 456.6 98.51 456.7 98.59 456.9 98.75 457.5 98.83 457.2 99.00 456.9 99.08 456.1 99.16 455.6 99.24 457.2 99.40 456.9 99.48 457.5 99.64 456.5 99.81 457.1 99.97 456.2 100.05 457.4 100.13 457.4 100.21 456.3 100.45 456.1 100.53 457.0 100.62 456.4 100.70 457.0 100.86 457.0 100.94 457.2 101.10 456.3 101.26 457.2 101.51 455.6 101.59 456.8 101.67 456.1 101.83 457.3 101.91 457.5 102.07 456.6 102.15 456.5 102.32 457.6 102.40 456.0 102.48 457.5 102.72 456.9 102.80 457.3 102.96 457.6 103.05 456.2 103.13 456.8 103.29 455.5 103.45 455.5 103.53 456.8 103.61 457.2 103.77 455.8 103.94 456.7 104.02 457.6 104.18 457.2 104.26 456.0 104.42 457.0 104.58 456.8 104.75 455.5 104.83 456.7 104.91 455.6 104.99 457.0 105.15 456.5 105.23 457.6 105.47 456.2 105.56 457.3 105.72 456.2 105.80 456.4 105.96 457.0 106.04 456.1 106.12 456.1 106.20 455.4 106.37 457.6 106.53 455.6 106.61 456.4 106.77 457.5 106.85 456.9 107.09 455.8 107.18 456.6 107.34 457.5 107.42 457.4 107.58 456.7 107.74 456.2 107.82 457.4 107.90 455.6 108.07 456.6 108.23 457.2 108.31 456.4 108.47 457.5 108.55 457.0 108.71 457.5 108.80 456.5 108.88 457.1 108.96 456.7 109.20 455.8 109.28 456.7 109.36 457.0 109.44 455.2 109.61 456.3 109.85 457.4 109.93 457.0 110.01 456.3 110.25 457.4 110.33 455.8 110.41 455.3 110.58 457.4 110.66 457.3 110.82 456.6 110.98 456.6 111.06 456.8 111.14 455.4 111.22 456.6 111.39 456.8 111.47 457.7 111.63 456.7 111.79 457.3 111.87 457.5 112.03 456.1 112.12 457.7 112.20 455.6 112.36 456.5 112.52 457.2 112.68 457.0 112.84 457.2 113.01 456.8 113.09 457.1 113.17 456.5 113.33 457.4 113.41 456.6 113.57 456.1 113.65 455.2 113.74 456.6 113.90 456.2 114.06 457.4 114.22 456.2 114.30 455.8 114.38 456.8 114.55 455.6 114.63 457.0 114.71 457.2 114.87 457.2 114.95 457.1 115.19 455.9 115.27 456.8 115.44 456.1 115.60 457.6 115.76 456.6 115.84 456.4 115.92 457.6 116.00 455.3 116.25 456.4 116.33 457.0 116.41 456.9 116.49 456.6 116.73 456.2 116.81 457.5 116.89 456.2 116.97 457.2 117.14 456.5 117.30 457.4 117.38 455.3 117.54 457.2 117.62 457.1 117.78 455.3 117.87 455.6 118.03 457.6 118.11 454.9 118.27 457.3 118.43 455.2 118.51 457.1 118.68 457.0 118.84 456.1 118.92 455.9 119.00 457.3 119.24 457.1 119.32 455.7 119.40 456.9 119.57 456.2 119.65 455.3 119.73 456.9 119.97 456.4 120.05 457.4 120.21 457.2 120.29 456.3 120.38 457.5 120.54 457.2 120.62 455.5 120.70 456.6 120.86 457.1 120.94 456.1 121.19 456.8 121.27 457.4 121.43 456.5 121.51 457.4 121.75 456.9 121.83 456.3 122.00 456.9 122.08 455.2 122.16 456.8 122.32 455.8 122.40 457.0 122.56 455.7 122.64 457.3 122.72 457.0 122.97 456.2 123.05 456.8 123.13 456.1 123.29 457.0 123.37 456.9 123.45 455.8 123.62 457.4 123.78 455.4 123.86 455.5 123.94 457.1 124.26 455.6 124.34 456.7 124.42 457.2 124.59 455.6 124.67 456.7 124.75 457.3 124.91 457.1 124.99 455.9 125.15 456.3 125.32 457.1 125.40 457.2 125.56 453.9 125.64 456.3 125.80 457.0 125.96 456.5 126.04 457.0 126.21 456.8 126.29 456.1 126.37 456.1 126.53 456.9 126.69 457.1 126.77 455.9 126.85 456.4 127.02 457.4 127.18 457.0 127.34 457.3 127.50 455.4 127.58 456.6 127.66 457.6 127.83 456.8 127.91 457.1 128.07 455.5 128.23 457.2 128.31 457.3 128.47 456.8 128.56 457.1 128.64 456.6 128.72 457.5 128.88 456.6 128.96 456.4 129.12 455.8 129.20 457.6 129.36 456.5 129.45 457.2 129.69 455.6 129.77 456.3 129.85 456.6 130.01 457.2 130.17 456.9 130.26 456.6 130.50 457.1 130.58 455.9 130.74 455.8 130.82 457.1 130.98 457.7 131.07 456.6 131.23 456.0 131.31 457.5 131.39 456.8 131.47 456.2 131.71 456.9 131.79 456.2 131.96 457.1 132.04 456.2 132.20 457.2 132.28 455.8 132.36 456.3 132.44 456.6 132.69 455.6 132.77 457.2 132.93 456.6 133.01 456.1 133.17 456.4 133.25 454.6 133.41 456.6 133.58 456.0 133.74 456.0 133.82 457.0 133.90 457.4 134.06 456.3 134.14 457.1 134.22 456.1 134.39 456.4 134.47 457.5 134.63 456.9 134.79 457.3 134.87 456.5 134.95 457.4 135.11 456.7 135.28 456.1 135.44 456.8 135.52 457.4 135.68 456.9 135.84 456.1 135.92 457.3 136.01 457.4 136.17 456.6 136.33 457.7 136.41 457.5 136.49 456.7 136.65 455.9 136.82 456.8 136.90 456.0 137.06 457.2 137.14 456.7 137.30 457.5 137.38 457.4 137.54 456.2 137.63 457.1 137.71 457.7 137.95 457.3 138.03 455.3 138.11 457.4 138.19 456.2 138.44 455.7 138.52 457.2 138.76 457.1 138.84 456.7 138.92 457.1 139.08 456.3 139.16 457.6 139.24 455.5 139.41 456.1 139.57 457.3 139.73 457.3 139.81 456.0 139.89 457.0 140.05 456.2 140.14 456.0 140.30 457.3 140.46 455.9 140.54 457.3 140.62 457.3 140.78 456.3 140.86 457.0 141.03 456.4 141.11 457.0 141.27 455.9 141.35 456.6 141.43 455.1 141.67 456.5 141.76 456.9 141.92 455.7 142.08 456.8 142.16 456.8 142.32 456.2 142.48 456.6 142.57 457.1 142.73 456.7 142.81 456.4 142.89 456.5 142.97 457.2 143.13 454.8 143.29 456.4 143.38 455.8 143.46 457.2 143.62 456.6 143.70 457.5 143.94 455.5 144.02 457.2 144.10 457.7 144.18 454.4 144.51 457.1 144.59 454.8 144.75 456.9 144.83 455.1 144.99 455.0 145.08 457.1 145.24 455.1 145.32 456.5 145.40 457.0 145.56 455.8 145.64 457.0 145.80 457.3 145.89 456.2 146.05 457.7 146.21 455.3 146.29 456.0 146.37 457.1 146.45 455.5 146.70 455.8 146.78 456.5 146.86 456.9 146.94 457.4 147.10 456.6 147.34 456.9 147.51 454.4 147.59 456.8 147.75 455.1 147.83 455.8 147.99 457.0 148.07 455.8 148.15 456.6 148.23 457.4 148.40 453.9 148.48 456.6 148.64 455.3 148.80 456.8 148.88 456.7 149.04 455.4 149.12 455.8 149.29 453.7 149.45 456.1 149.53 454.3 149.69 455.0 149.77 454.0 149.85 452.3 150.10 456.7 150.26 454.2 150.34 457.0 150.42 454.5 150.50 451.4 150.66 455.1 150.74 456.2 150.91 455.2 150.99 456.2 151.23 455.3 151.31 456.1 151.47 454.3 151.55 456.9 151.72 453.9 151.80 456.9 151.88 456.1 152.04 457.0 152.20 456.9 152.28 457.2 152.36 456.8 152.53 456.2 152.69 457.1 152.77 455.5 153.01 457.1 153.09 457.4 153.17 456.9 153.26 456.4 153.50 457.4 153.58 456.3 153.66 456.9 153.82 455.0 153.90 456.2 154.06 453.2 154.23 454.9 154.31 452.4 154.39 453.3 154.55 456.6 154.63 455.2 154.79 453.9 154.87 455.1 154.96 457.0 155.12 454.6 155.20 457.0 155.36 455.9 155.52 454.1 155.68 455.5 155.77 456.3 155.93 456.4 156.09 454.6 156.17 453.3 156.33 454.6 156.41 453.4 156.58 456.6 156.74 456.5 156.82 456.4 156.98 456.2 157.06 455.4 157.14 455.9 157.22 454.5 157.47 455.5 157.55 454.7 157.63 453.8 157.71 452.8 157.95 454.9 158.03 452.2 158.20 452.4 158.28 453.5 158.36 448.0 158.60 454.1 158.68 454.0 158.76 451.5 158.92 452.0 159.00 451.6 159.17 450.8 159.33 449.5 159.41 447.1 159.57 437.6 159.65 439.0 159.81 432.9 159.90 438.1 160.06 428.7 160.22 437.9 160.30 433.2 160.38 429.9 160.54 411.8 160.62 422.2 160.79 437.6 160.87 440.2 161.03 440.5 161.11 442.8 161.27 439.2 161.35 439.6 161.60 445.2 161.68 445.3 161.84 450.8 161.92 452.3 162.08 453.4 162.16 453.1 162.33 454.0 162.41 454.6 162.57 454.1 162.73 453.8 162.81 455.2 162.89 453.4 162.97 453.8 163.22 455.4 163.30 452.3 163.38 452.4 163.54 449.8 163.70 452.7 163.78 445.6 163.86 454.3 164.03 452.5 164.11 456.4 164.19 450.6 164.43 451.4 164.59 455.2 164.67 453.0 164.84 454.9 165.00 453.1 165.08 456.6 165.16 456.5 165.32 455.1 165.40 456.2 165.48 452.6 165.65 456.6 165.81 451.3 165.89 453.6 166.05 456.3 166.13 457.0 166.29 456.1 166.37 457.4 166.54 456.8 166.62 456.6 166.78 457.6 166.86 456.6 167.02 457.6 167.10 457.5 167.35 455.7 167.43 456.7 167.59 457.1 167.67 456.8 167.83 456.6 167.91 457.3 168.07 457.1 168.24 456.6 168.32 455.2 168.40 456.6 168.56 455.2 168.72 457.2 168.80 455.5 168.88 457.4 168.97 456.3 169.21 456.3 169.29 457.0 169.45 456.9 169.53 457.4 169.69 456.9 169.78 457.5 169.86 457.0 170.10 456.0 170.18 456.7 170.34 453.7 170.42 457.4 170.50 455.5 170.67 456.8 170.75 453.3 170.91 456.4 171.07 454.4 171.23 454.5 171.31 453.4 171.48 455.4 171.56 451.4 171.64 455.0 171.72 451.9 171.96 453.5 172.04 454.9 172.12 454.2 172.29 457.3 172.37 455.3 172.45 457.5 172.61 456.9 172.77 457.6 172.85 456.4 172.93 457.3 173.26 456.3 173.34 457.1 173.42 456.3 173.58 457.6 173.74 456.9 173.82 455.1 173.91 454.9 173.99 456.5 174.15 456.3 174.31 455.3 174.39 455.0 174.55 456.4 174.63 457.6 174.72 455.1 174.88 456.6 175.04 457.2 175.12 456.7 175.20 457.2 175.36 455.0 175.44 456.2 175.69 455.7 175.85 457.7 176.01 453.9 176.09 455.2 176.17 454.2 176.34 456.9 176.50 456.7 176.58 453.8 176.66 456.0 176.74 455.6 176.90 452.3 177.06 456.6 177.15 455.6 177.23 455.5 177.39 455.2 177.55 450.9 177.63 453.4 177.71 456.2 177.95 454.3 178.04 457.5 178.12 457.2 178.20 454.1 178.44 457.2 178.52 454.8 178.60 457.5 178.85 456.1 179.01 457.6 179.09 456.5 179.25 456.6 179.33 454.4 179.41 455.3 179.49 454.4 179.74 456.7 179.82 454.4 179.90 455.5 179.98 456.9 180.22 455.9 180.30 454.3 180.38 454.8 180.55 456.1 180.63 457.3 180.79 454.7 180.87 457.1 180.95 455.9 181.19 456.2 181.28 452.6 181.36 452.3 181.52 456.3 181.68 450.7 181.84 453.3 182.00 453.3 182.09 455.8 182.17 454.5 182.25 454.3 182.41 454.2 182.57 456.8 182.73 457.1 182.81 456.3 182.89 455.1 183.06 456.9 183.14 456.8 183.30 455.8 183.46 457.3 183.54 456.1 183.62 456.7 183.70 456.1 183.95 457.6 184.03 456.2 184.11 456.7 184.27 455.6 184.35 457.0 184.43 456.2 184.76 456.5 184.84 455.8 184.92 455.9 185.00 456.5 185.16 457.4 185.24 455.5 185.41 455.0 185.49 457.1 185.73 454.9 185.81 456.7 185.97 456.7 186.05 454.5 186.13 456.1 186.30 454.5 186.38 454.9 186.54 456.2 186.62 457.1 186.78 456.7 186.94 456.6 187.03 455.8 187.19 456.3 187.27 456.8 187.51 455.8 187.59 457.5 187.67 455.7 187.75 457.1 187.92 456.0 188.08 457.5 188.16 457.1 188.24 457.4 188.40 457.4 188.56 456.9 188.64 456.4 188.73 457.6 188.97 456.5 189.05 455.4 189.21 456.5 189.29 457.4 189.37 456.0 189.45 457.2 189.70 453.6 189.78 455.0 189.94 455.4 190.02 456.9 190.26 457.2 190.35 453.6 190.51 456.7 190.59 455.4 190.67 456.5 190.83 457.4 190.91 455.9 190.99 457.0 191.16 456.9 191.32 455.9 191.48 455.2 191.56 448.2 191.64 446.5 191.72 455.7 191.88 453.6 192.05 451.7 192.13 456.4 192.21 451.4 192.45 456.2 192.53 451.8 192.69 455.0 192.77 456.5 192.86 455.3 192.94 457.4 193.18 456.6 193.26 456.9 193.42 456.5 193.50 456.2 193.67 455.4 193.83 456.9 193.91 457.4 193.99 456.2 194.15 456.3 194.23 454.4 194.48 454.6 194.56 452.1 194.64 454.8 194.80 456.9 194.88 454.2 195.04 450.2 195.12 457.4 195.29 455.3 195.37 456.6 195.45 453.7 195.61 453.2 195.77 456.4 195.85 457.5 196.10 455.2 196.26 456.3 196.34 455.3 196.42 455.4 196.50 453.2 196.74 455.9 196.82 455.5 196.99 453.1 197.07 455.8 197.23 456.1 197.31 456.7 197.47 454.8 197.55 452.3 197.71 454.1 197.80 456.8 197.96 455.5 198.04 454.2 198.20 451.4 198.28 456.5 198.36 452.9 198.52 457.0 198.61 454.3 198.69 457.5 198.93 457.6 199.01 455.9 199.25 453.4 199.33 456.3 199.50 452.7 199.58 455.0 199.66 454.0 199.82 456.9 199.98 456.1 200.06 453.4 200.14 452.2 200.31 456.8 200.47 456.0 200.55 455.4 200.63 452.8 200.79 456.9 200.87 454.6 201.04 455.6 201.12 455.7 201.20 455.2 201.44 454.9 201.52 457.1 201.60 457.2 201.85 453.2 202.01 457.2 202.09 455.5 202.25 455.5 202.33 453.5 202.41 451.8 202.57 454.7 202.74 452.3 202.82 449.6 202.98 447.7 203.06 455.2 203.14 456.5 203.22 451.5 203.46 455.6 203.55 453.1 203.63 452.8 203.79 457.1 203.87 450.3 203.95 453.1 204.11 450.6 204.27 454.5 204.36 457.1 204.52 453.9 204.68 449.5 204.76 455.6 204.92 456.0 205.08 449.7 205.17 455.5 205.33 454.1 205.41 451.5 205.49 455.7 205.73 454.4 205.81 455.5 205.89 457.4 205.98 455.0 206.22 449.3 206.30 454.4 206.46 451.9 206.54 455.0 206.70 454.1 206.79 448.5 206.95 452.0 207.03 453.9 207.11 451.6 207.19 456.7 207.43 455.7 207.59 450.9 207.68 457.5 207.76 456.4 208.00 456.9 208.08 454.8 208.16 454.9 208.32 452.2 208.40 454.0 208.57 452.5 208.65 452.4 208.81 456.9 208.89 451.7 208.97 453.2 209.13 455.2 209.21 452.8 209.38 449.6 209.54 455.5 209.62 450.7 209.70 447.0 209.86 451.1 210.02 455.8 210.11 449.7 210.19 455.3 210.43 445.0 210.51 452.1 210.75 451.1 210.83 455.4 210.92 457.1 211.08 454.6 211.24 455.5 211.32 456.3 211.40 451.3 211.56 453.4 211.64 450.6 211.73 453.5 211.89 449.7 212.05 452.2 212.21 455.9 212.29 445.2 212.37 455.0 212.53 452.6 212.62 455.1 212.78 446.3 212.94 451.5 213.02 457.1 213.18 456.0 213.34 448.7 213.43 451.9 213.59 450.4 213.75 452.1 213.83 449.7 213.91 453.7 213.99 456.8 214.24 453.2 214.32 454.0 214.48 456.3 214.56 451.0 214.64 454.4 214.72 457.6 214.96 453.9 215.05 456.9 215.13 454.7 215.29 455.3 215.37 451.0 215.45 452.6 215.69 453.8 215.77 451.5 215.94 455.8 216.10 449.8 216.18 449.6 216.26 456.9 216.42 451.5 216.58 454.0 216.75 452.0 216.83 455.3 216.99 453.2 217.07 455.3 217.23 453.9 217.31 454.7 217.47 450.9 217.56 452.1 217.64 450.0 217.72 455.3 217.96 456.6 218.04 451.8 218.12 453.6 218.28 456.5 218.45 455.8 218.53 452.2 218.61 455.2 218.69 454.3 218.85 455.5 219.01 455.6 219.18 456.6 219.26 452.8 219.42 453.4 219.50 457.1 219.66 454.8 219.74 453.9 219.99 456.7 220.07 456.3 220.15 455.5 220.31 457.1 220.47 451.3 220.55 456.5 220.71 451.7 220.80 453.8 220.96 450.7 221.04 455.9 221.20 451.1 221.28 457.2 221.36 455.8 221.52 457.4 221.60 455.1 221.69 456.3 221.93 455.7 222.01 457.0 222.17 457.3 222.33 454.8 222.41 457.1 222.58 453.6 222.66 455.5 222.74 456.3 222.98 457.1 223.06 455.3 223.14 456.3 223.22 453.7 223.39 456.5 223.47 455.0 223.71 455.3 223.79 450.6 223.87 456.1 224.03 454.4 224.12 455.2 224.20 456.9 224.44 457.3 224.52 456.0 224.68 455.0 224.84 455.5 225.01 455.9 225.09 456.8 225.25 456.8 225.33 455.0 225.41 457.0 225.57 453.7 225.65 457.1 225.82 455.5 225.90 455.6 225.98 456.8 226.14 456.8 226.22 454.9 226.46 456.0 226.54 454.3 226.63 454.5 226.71 457.7 226.87 457.4 227.03 455.2 227.11 456.4 227.19 457.5 227.52 456.9 227.60 455.3 227.68 456.9 227.84 453.9 227.92 452.1 228.08 454.5 228.25 455.2 228.33 456.7 228.41 456.1 228.57 457.5 228.65 457.4 228.81 456.5 228.89 456.6 229.06 457.1 229.14 457.3 229.30 455.6 229.38 456.0 229.46 455.2 229.70 457.5 229.78 456.7 229.95 457.0 230.03 456.0 230.11 456.9 230.27 455.4 230.51 455.3 230.59 457.0 230.68 454.2 230.84 456.3 231.00 457.1 231.08 455.3 231.16 457.6 231.24 456.5 231.40 455.5 231.48 454.4 231.73 456.5 231.81 453.2 231.89 446.6 231.97 455.5 232.21 455.4 232.29 452.5 232.38 456.6 232.54 454.4 232.62 455.3 232.78 453.6 232.86 455.8 232.94 457.2 233.27 455.5 233.35 455.2 233.51 456.7 233.59 455.7 233.75 454.5 233.83 457.0 234.00 457.0 234.08 451.2 234.16 455.1 234.32 453.2 234.48 456.5 234.56 453.6 234.64 452.5 234.72 455.0 234.89 454.4 235.05 451.0 235.21 456.9 235.29 451.5 235.37 453.6 235.53 456.7 235.62 454.7 235.70 456.9 235.86 453.3 235.94 456.1 236.10 457.4 236.34 455.1 236.42 455.3 236.59 453.2 236.67 453.7 236.83 455.9 236.91 454.8 236.99 452.2 237.15 456.3 237.23 453.3 237.40 454.9 237.48 456.6 237.64 455.4 237.72 457.2 237.88 457.2 238.04 456.6 238.13 457.4 238.21 456.8 238.45 456.2 238.53 457.1 238.61 456.8 238.69 456.2 238.94 457.0 239.02 454.9 239.18 456.8 239.26 454.7 239.50 456.7 239.58 457.1 239.66 457.0 239.75 456.0 239.91 456.4 240.07 457.1 240.15 456.8 240.23 457.3 240.47 457.7 240.56 456.9 240.72 457.1 240.80 456.5 240.96 456.8 241.04 455.4 241.20 457.6 241.28 457.2 241.36 457.5 241.45 456.3 241.69 457.0 241.77 456.6 242.01 456.6 242.09 455.9 242.26 456.4 242.34 456.2 242.42 457.6 242.58 456.0 242.66 457.5 242.74 456.6 242.90 457.2 243.07 457.5 243.15 457.1 243.31 455.4 243.39 454.5 243.47 457.4 243.63 457.3 243.79 455.5 243.88 457.4 243.96 456.3 244.12 457.7 244.28 457.0 244.36 456.9 244.52 456.6 244.69 456.5 244.85 454.2 244.93 451.6 245.09 456.0 245.17 457.0 245.25 456.5 245.41 457.4 245.50 455.8 245.74 456.5 245.82 456.9 245.90 456.9 245.98 455.6 246.14 457.5 246.30 455.6 246.39 456.3 246.47 456.8 246.71 454.2 246.79 456.2 246.87 457.6 247.03 456.0 247.11 456.6 247.28 457.4 247.44 457.6 247.52 456.5 247.68 456.9 247.76 454.7 247.92 453.0 248.01 456.3 248.17 454.3 248.33 448.3 248.41 452.7 248.49 456.3 248.73 456.5 248.82 456.1 248.98 455.5 249.06 454.0 249.22 457.4 249.30 455.0 249.38 454.5 249.46 452.8 249.71 455.7 249.79 457.6 249.95 455.9 250.03 457.2 250.19 456.3 250.27 457.6 250.35 456.8 250.52 452.3 250.76 454.1 250.84 450.3 251.00 453.8 251.08 456.3 251.16 454.0 251.33 457.6 251.41 456.6 251.49 455.4 251.65 457.3 251.81 455.7 251.89 456.9 252.05 453.3 252.14 456.0 252.22 453.4 252.46 454.4 252.54 455.6 252.62 453.3 252.78 455.8 252.86 456.5 253.03 454.3 253.11 456.8 253.19 453.4 253.35 457.4 253.43 453.4 253.67 454.3 253.76 456.8 253.92 456.8 254.08 455.4 254.16 454.5 254.24 453.4 254.48 449.8 254.57 455.0 254.65 456.2 254.73 452.2 254.97 456.4 255.05 451.3 255.13 454.6 255.29 450.1 255.38 455.7 255.54 455.0 255.62 456.8 255.70 456.2 255.86 457.4 256.02 456.5 256.18 457.1 256.35 456.4 256.43 457.0 256.59 456.1 256.67 457.6 256.75 454.9 256.91 454.8 256.99 457.2 257.16 455.3 257.24 454.0 257.40 456.2 257.48 454.6 257.64 455.0 257.72 456.8 257.89 456.2 258.05 454.1 258.13 454.4 258.21 456.7 258.37 452.8 258.53 456.4 258.61 457.3 258.78 448.6 258.86 451.7 258.94 445.5 259.10 445.8 259.18 454.8 259.42 454.7 259.59 455.0 259.67 457.0 259.83 456.2 259.91 455.6 259.99 456.3 260.15 453.6 260.32 450.4 260.48 453.0 260.56 451.9 260.64 451.8 260.72 456.1 260.96 455.0 261.04 456.5 261.12 456.0 261.21 456.7 261.37 456.4 261.45 452.2 261.61 453.5 261.77 456.3 261.85 455.1 262.10 450.2 262.18 453.2 262.34 451.3 262.42 447.9 262.58 453.0 262.74 446.9 262.83 440.0 262.91 422.6 262.99 400.9 263.15 435.6 263.31 451.1 263.47 453.1 263.55 455.5 263.64 455.4 263.72 454.9 263.88 454.0 263.96 456.3 264.20 456.6 264.28 455.5 264.45 456.0 264.53 454.4 264.61 456.4 264.69 455.0 264.85 454.7 265.01 456.8 265.25 454.7 265.34 456.7 265.42 456.5 265.50 454.9 265.66 455.1 265.82 455.8 265.98 456.6 266.06 454.9 266.23 455.9 266.31 452.4 266.39 455.4 266.55 456.2 266.71 454.7 266.79 456.6 266.87 456.0 267.04 453.7 267.12 455.9 267.20 455.1 267.36 453.9 267.52 452.4 267.60 451.4 267.77 454.5 268.01 449.7 268.09 451.1 268.25 448.7 268.33 451.5 268.49 448.5 268.58 452.8 268.74 449.3 268.82 453.2 268.90 452.2 269.06 448.2 269.14 450.5 269.30 445.3 269.39 449.9 269.55 440.3 269.63 440.2 269.79 447.2 269.87 443.4 270.03 447.9 270.11 449.8 270.28 444.7 270.44 445.4 270.60 448.8 270.68 445.5 270.76 447.2 271.00 447.6 271.09 444.9 271.17 441.8 271.33 446.1 271.49 442.7 271.57 436.2 271.65 428.2 271.73 435.2 271.98 420.7 272.06 429.2 272.14 432.9 272.30 422.1 272.38 424.7 272.54 431.7 272.71 435.0 272.79 430.9 272.87 437.7 273.03 431.5 273.11 435.6 273.27 430.9 273.52 429.5 273.60 424.4 273.68 421.7 273.84 409.6 273.92 407.7 274.08 395.1 274.16 389.5 274.33 363.9 274.41 355.9 274.65 355.9 274.89 355.9 275.13 355.9 275.38 355.9 275.62 369.7 275.78 390.6 275.86 390.3 276.03 412.6 276.19 420.3 276.35 429.1 276.51 434.5 276.59 436.0 276.75 438.6 276.84 442.5 276.92 440.7 277.00 444.9 277.16 443.0 277.24 447.1 277.40 438.3 277.48 447.4 277.65 440.6 277.73 428.6 277.89 432.7 277.97 439.0 278.21 452.9 278.29 446.9 278.37 439.7 278.46 453.6 278.62 444.3 278.70 453.1 278.86 446.6 278.94 451.2 279.10 445.0 279.35 452.1 279.43 455.4 279.59 453.4 279.67 454.3 279.83 454.9 279.91 454.6 280.07 448.2 280.16 455.6 280.32 449.2 280.48 451.8 280.56 446.1 280.64 438.8 280.80 447.1 280.97 442.8 281.05 452.0 281.13 452.1 281.21 449.5 281.45 452.7 281.53 453.4 281.69 448.2 281.78 454.5 281.86 454.7 281.94 444.5 282.26 446.0 282.34 449.3 282.42 453.0 282.50 453.5 282.75 453.6 282.83 452.3 282.91 457.0 282.99 455.4 283.23 456.7 283.31 455.9 283.40 456.6 283.56 456.0 283.64 455.5 283.72 455.0 283.88 452.3 283.96 456.6 284.21 444.1 284.29 449.8 284.45 449.0 284.53 454.1 284.61 453.8 284.77 445.7 284.85 445.1 285.01 450.3 285.26 454.2 285.34 451.5 285.42 445.9 285.58 455.1 285.74 455.8 285.82 451.7 285.91 456.8 285.99 453.3 286.23 454.6 286.31 456.7 286.39 455.1 286.47 453.3 286.63 454.7 286.80 454.1 286.88 452.2 287.04 441.1 287.12 434.3 287.28 449.4 287.36 451.4 287.53 452.4 287.69 454.0 287.77 456.9 288.01 456.2 288.09 456.9 288.17 455.8 288.34 455.1 288.42 455.6 288.58 456.9 288.66 455.7 288.74 457.3 288.98 455.8 289.06 456.2 289.15 456.2 289.31 456.3 289.39 456.7 289.55 457.1 289.63 456.5 289.79 457.5 289.95 457.4 290.04 456.5 290.20 456.8 290.28 456.8 290.44 456.8 290.52 457.0 290.76 455.2 290.85 457.5 290.93 457.2 291.09 456.3 291.25 457.4 291.33 456.0 291.41 456.4 291.57 457.5 291.74 456.8 291.82 456.7 291.90 457.1 292.06 455.7 292.14 456.7 292.22 457.4 292.38 457.1 292.55 456.8 292.63 456.9 292.79 456.3 292.87 456.6 293.03 457.3 293.11 456.6 293.28 457.1 293.44 457.4 293.52 455.4 293.68 455.2 293.76 456.3 293.92 457.1 294.09 456.3 294.17 457.2 294.33 456.5 294.49 456.5 294.57 454.9 294.65 455.2 294.81 456.9 294.89 455.6 295.06 457.4 295.22 455.8 295.30 457.0 295.46 457.5 295.54 457.1 295.62 457.5 295.79 455.9 295.95 455.9 296.03 456.7 296.11 457.5 296.27 456.5 296.35 455.7 296.51 456.5 296.76 456.4 296.84 457.0 296.92 455.7 297.00 456.3 297.24 456.1 297.32 457.6 297.41 457.5 297.57 456.1 297.65 457.3 297.73 456.4 297.97 457.1 298.05 457.4 298.13 455.8 298.30 457.2 298.46 456.9 298.54 456.6 298.62 455.5 298.70 457.1 298.86 457.6 298.94 456.4 299.11 454.2 299.35 456.5 299.43 456.8 299.59 454.8 299.75 456.2 299.83 457.2 299.92 455.4 300.08 457.2 300.16 456.0 300.24 457.0 300.40 456.5 300.56 457.5 300.64 457.4 300.81 457.1 300.97 455.5 301.05 456.4 301.13 456.7 301.21 456.0 301.37 456.4 301.54 455.8 301.62 454.5 301.78 456.7 301.86 457.6 302.02 455.1 302.26 457.1 302.35 456.0 302.51 456.6 302.59 456.7 302.67 456.2 302.83 456.7 302.91 455.2 303.07 457.0 303.16 455.5 303.24 456.5 303.48 456.6 303.56 455.4 303.64 456.9 303.80 456.2 303.97 457.1 304.05 455.8 304.13 457.7 304.21 456.9 304.37 457.0 304.53 455.6 304.61 454.7 304.69 457.3 304.86 454.7 304.94 456.5 305.18 457.6 305.26 456.7 305.42 455.6 305.58 457.0 305.67 457.0 305.83 456.5 305.91 456.6 306.07 456.3 306.15 456.7 306.31 456.1 306.39 455.1 306.48 456.2 306.64 456.9 306.72 457.4 306.88 457.6 306.96 456.5 307.20 456.4 307.29 457.1 307.45 457.0 307.53 456.2 307.69 457.3 307.77 455.6 307.85 456.5 307.93 457.0 308.18 456.8 308.34 456.3 308.42 456.9 308.50 454.1 308.74 456.8 308.82 457.7 308.91 455.9 308.99 456.9 309.15 456.1 309.23 457.2 309.47 457.0 309.55 455.9 309.71 456.4 309.80 456.4 309.88 457.3 309.96 455.5 310.12 456.8 310.20 455.7 310.44 456.1 310.52 456.4 310.77 455.5 310.85 456.7 311.01 457.5 311.09 457.1 311.17 457.2 311.25 455.6 311.50 457.1 311.58 455.9 311.66 457.3 311.82 456.3 311.98 455.1 312.06 457.2 312.14 457.0 312.31 456.0 312.47 455.9 312.55 456.8 312.63 457.0 312.71 455.5 312.87 456.6 313.04 457.2 313.20 456.6 313.28 457.0 313.44 455.8 313.52 457.1 313.60 457.2 313.68 452.9 313.93 456.6 314.01 455.3 314.25 454.2 314.33 456.0 314.49 457.2 314.57 455.7 314.65 455.8 314.82 457.4 314.98 456.2 315.06 457.4 315.22 454.3 315.30 457.3 315.38 456.3 315.55 457.2 315.63 457.3 315.71 456.1 315.87 456.6 316.03 457.0 316.19 457.0 316.27 457.4 316.36 455.9 316.52 457.6 316.68 456.9 316.76 455.4 316.92 457.3 317.08 455.1 317.17 457.3 317.25 452.1 317.41 452.7 317.57 454.8 317.65 453.2 317.81 455.9 317.98 456.2 318.06 452.1 318.22 456.7 318.30 454.9 318.46 451.8 318.54 455.7 318.62 453.2 318.70 454.4 318.87 455.8 319.03 456.7 319.11 457.6 319.19 456.3 319.35 457.6 319.51 456.3 319.68 457.2 319.84 456.5 320.00 457.1 320.08 455.7 320.16 456.8 320.32 455.6 320.40 455.6 320.57 457.0 320.73 457.3 320.81 456.8 320.97 457.2 321.05 456.0 321.13 457.1 321.21 456.6 321.46 457.5 321.54 455.8 321.70 457.0 321.78 454.9 321.86 454.1 322.02 456.5 322.11 453.6 322.19 457.2 322.43 456.2 322.59 453.9 322.67 456.0 322.75 457.1 322.92 456.8 323.08 456.4 323.24 457.0 323.32 456.7 323.48 457.1 323.56 457.4 323.64 457.1 323.81 455.8 323.89 456.1 324.05 456.8 324.21 457.2 324.29 456.1 324.45 456.7 324.53 457.6 324.62 457.0 324.78 456.3 324.86 456.8 324.94 457.5 325.10 456.1 325.34 457.5 325.43 456.9 325.59 456.2 325.75 456.2 325.83 456.9 325.99 456.7 326.07 454.9 326.24 456.5 326.32 454.5 326.40 455.7 326.56 454.5 326.64 454.6 326.72 451.7 326.96 457.3 327.05 453.3 327.21 455.6 327.29 451.8 327.37 455.7 327.53 457.2 327.61 457.7 327.69 456.2 327.86 456.1 327.94 456.6 328.18 457.7 328.26 455.3 328.50 457.3 328.58 455.3 328.66 453.3 328.75 452.0 328.91 450.2 328.99 453.5 329.15 453.9 329.23 455.6 329.39 457.2 329.47 455.1 329.64 457.6 329.72 455.5 329.96 456.5 330.04 457.4 330.20 455.1 330.28 456.9 330.45 456.6 330.53 455.0 330.69 454.9 330.77 455.3 330.85 452.3 331.09 456.0 331.18 456.9 331.34 454.7 331.42 456.9 331.50 453.7 331.66 453.9 331.82 457.5 331.99 453.6 332.07 456.5 332.15 455.7 332.23 456.3 332.47 457.2 332.55 455.0 332.63 454.4 332.71 456.2 332.88 457.1 333.04 454.5 333.20 454.7 333.28 454.5 333.44 455.3 333.52 453.6 333.69 451.4 333.77 456.9 333.93 452.5 334.09 457.2 334.25 451.2 334.33 455.9 334.41 456.1 334.50 446.5 334.74 456.7 334.82 441.6 334.98 453.0 335.06 449.5 335.14 451.9 335.22 446.8 335.39 457.0 335.47 450.7 335.63 454.9 335.79 452.7 335.95 453.1 336.03 456.4 336.20 455.9 336.28 456.6 336.36 456.2 336.44 452.9 336.68 454.7 336.76 456.5 337.01 451.9 337.09 455.2 337.17 450.5 337.25 455.0 337.41 455.3 337.49 449.9 337.74 452.1 337.82 455.7 337.90 453.4 338.06 455.7 338.22 456.6 338.30 454.8 338.38 451.8 338.54 455.4 338.63 454.6 338.79 448.0 338.87 453.3 338.95 452.1 339.11 456.2 339.27 454.4 339.44 457.5 339.60 453.0 339.68 455.4 339.84 456.9 339.92 451.2 340.08 455.4 340.16 451.1 340.25 453.7 340.49 452.8 340.57 455.6 340.73 454.4 340.81 448.7 340.97 456.6 341.06 449.9 341.14 452.1 341.22 454.1 341.38 456.7 341.46 452.5 341.70 454.9 341.78 452.4 341.95 452.2 342.03 444.5 342.11 445.5 342.19 452.2 342.43 454.0 342.51 451.2 342.68 453.0 342.84 455.4 343.00 453.3 343.08 455.6 343.24 455.6 343.32 454.0 343.40 454.5 343.57 452.5 343.65 453.5 343.73 457.0 343.97 451.1 344.05 439.4 344.21 449.2 344.29 454.0 344.38 456.1 344.54 447.8 344.62 451.3 344.70 455.5 344.86 457.1 344.94 453.5 345.10 455.7 345.27 457.0 345.51 457.0 345.59 451.5 345.67 454.3 345.83 450.9 346.00 451.6 346.08 456.9 346.24 457.2 346.32 455.3 346.48 455.8 346.56 453.1 346.72 457.5 346.81 452.8 346.89 454.9 346.97 457.2 347.13 457.4 347.21 454.3 347.37 454.8 347.45 456.8 347.70 453.9 347.78 455.2 347.94 457.0 348.02 449.0 348.18 451.8 348.34 454.7 348.51 455.9 348.59 449.8 348.75 450.6 348.83 451.3 348.91 456.7 349.07 451.1 349.15 454.3 349.23 452.5 349.40 455.5 349.56 451.3 349.64 453.5 349.72 457.3 349.88 455.2 350.04 456.3 350.21 453.6 350.29 456.4 350.37 456.1 350.53 456.9 350.61 456.8 350.77 455.8 350.94 455.1 351.02 452.0 351.18 452.9 351.26 454.7 351.42 453.7 351.50 455.9 351.66 453.8 351.75 455.9 351.91 455.5 351.99 453.0 352.23 457.1 352.31 454.9 352.47 456.2 352.56 456.9 352.64 456.3 352.80 454.7 352.88 455.9 353.04 455.1 353.12 457.4 353.28 456.3 353.36 454.9 353.53 452.9 353.61 453.1 353.69 454.7 353.85 445.4 354.01 454.8 354.26 454.7 354.34 453.7 354.42 453.7 354.50 450.2 354.66 455.9 354.74 456.8 354.98 457.4 355.07 455.1 355.15 455.4 355.23 453.7 355.39 454.3 355.55 450.3 355.63 454.0 355.79 449.8 355.88 456.9 355.96 452.5 356.12 454.5 356.20 456.0 356.44 455.6 356.52 453.0 356.60 455.5 356.85 457.4 356.93 456.7 357.01 457.1 357.17 457.6 357.25 455.7 357.50 456.1 357.58 455.6 357.66 454.9 357.74 453.4 357.98 456.3 358.06 455.6 358.22 456.7 358.30 454.9 358.47 456.3 358.55 454.3 358.63 456.3 358.71 452.8 358.87 448.7 359.03 452.5 359.20 454.1 359.28 452.0 359.44 454.5 359.52 456.0 359.60 454.0 359.68 455.9 360.01 454.1 360.09 456.5 360.17 453.5 360.33 456.2 360.41 457.6 360.49 456.2 360.65 457.6 360.82 455.2 360.98 457.4 361.06 456.2 361.14 456.5 361.22 455.0 361.38 455.3 361.46 456.8 361.71 456.8 361.79 457.4 361.95 456.6 362.03 454.8 362.11 456.4 362.27 456.0 362.52 457.0 362.60 455.0 362.68 454.9 362.76 457.5 363.00 456.1 363.08 456.9 363.16 457.0 363.24 456.3 363.41 455.4 363.49 456.7 363.65 455.0 363.81 456.9 363.89 456.3 363.97 457.4 364.22 457.5 364.30 456.6 364.46 457.3 364.54 456.2 364.70 456.1 364.78 457.3 364.86 456.6 365.03 457.7 365.11 456.6 365.27 450.6 365.51 457.0 365.59 445.8 365.67 453.2 365.76 450.9 365.92 449.3 366.00 455.4 366.24 451.0 366.32 457.2 366.40 454.2 366.57 457.1 366.65 457.5 366.81 457.1 366.89 457.4 367.05 455.9 367.21 457.2 367.29 455.1 367.46 456.9 367.54 454.8 367.62 457.1 367.70 456.9 367.94 456.5 368.02 455.8 368.10 457.5 368.18 456.2 368.43 457.3 368.51 457.0 368.67 457.7 368.75 456.3 368.99 457.4 369.08 456.5 369.16 456.3 369.32 455.7 369.40 457.0 369.56 456.1 369.64 455.7 369.72 457.4 369.89 457.5 369.97 456.7 370.13 457.6 370.29 456.7 370.45 456.8 370.53 457.2 370.61 457.5 370.70 456.5 370.94 456.7 371.02 455.5 371.10 457.4 371.34 455.2 371.51 456.9 371.59 456.8 371.75 455.9 371.83 456.6 371.91 456.8 372.07 457.0 372.15 455.8 372.31 457.4 372.40 456.7 372.56 457.3 372.64 454.7 372.80 455.4 372.88 456.5 373.04 453.8 373.12 453.4 373.29 455.2 373.37 455.3 373.53 457.3 373.61 456.8 373.69 456.9 373.93 454.7 374.02 457.2 374.26 456.4 374.34 455.2 374.42 452.0 374.50 456.8 374.66 452.3 374.83 456.8 374.91 455.0 374.99 453.3 375.23 455.3 375.31 454.0 375.47 452.9 375.55 455.1 375.64 455.4 375.72 451.8 375.96 454.9 376.04 457.3 376.20 453.8 376.28 456.8 376.45 455.7 376.53 456.4 376.69 455.8 376.77 457.0 376.85 455.8 377.09 456.9 377.17 457.3 377.25 456.8 377.42 456.5 377.58 457.6 377.74 456.9 377.82 457.5 377.90 456.8 377.98 457.1 378.15 457.0 378.31 457.5 378.47 457.0 378.55 456.8 378.63 456.1 378.79 454.5 378.96 454.8 379.04 453.3 379.12 456.9 379.20 455.1 379.44 456.3 379.52 451.8 379.68 455.1 379.77 452.2 379.93 457.0 380.01 456.0 380.25 456.0 380.33 456.9 380.49 453.7 380.58 456.5 380.66 457.4 380.82 455.0 380.90 456.6 381.06 456.0 381.22 455.3 381.30 456.8 381.47 451.2 381.55 454.4 381.71 451.3 381.79 455.6 381.87 454.6 381.95 457.0 382.11 453.3 382.19 457.2 382.44 453.9 382.52 455.8 382.68 454.2 382.76 455.9 382.92 456.4 383.00 455.6 383.25 456.3 383.33 457.1 383.41 455.0 383.49 455.9 383.65 455.8 383.81 456.5 383.98 456.8 384.06 457.1 384.14 456.5 384.22 456.9 384.38 456.2 384.54 456.7 384.62 455.7 384.71 456.3 384.87 456.3 384.95 455.2 385.11 454.1 385.27 453.4 385.35 455.6 385.52 453.4 385.68 455.3 385.76 452.8 385.92 453.5 386.08 454.2 386.16 454.8 386.33 453.2 386.41 453.5 386.49 455.1 386.65 453.7 386.81 454.5 386.89 451.3 386.97 454.5 387.22 453.2 387.30 454.0 387.38 452.9 387.54 450.7 387.62 449.8 387.78 443.6 387.86 440.5 388.03 437.3 388.19 435.3 388.35 441.5 388.43 440.5 388.51 442.7 388.67 439.7 388.84 427.8 388.92 413.8 389.08 433.6 389.24 439.5 389.32 435.4 389.40 440.9 389.48 433.0 389.65 439.8 389.73 438.9 389.89 437.9 390.05 445.5 390.13 446.6 390.29 451.0 390.37 451.0 390.54 452.4 390.62 453.6 390.78 454.5 390.86 454.7 391.02 455.3 391.10 455.1 391.27 455.5 391.43 455.6 391.59 455.4 391.67 454.3 391.75 454.8 391.91 455.5 392.07 454.2 392.24 455.0 392.32 452.8 392.48 454.7 392.56 456.3 392.64 455.9 392.72 456.5 392.88 455.1 393.05 456.7 393.13 456.6 393.29 456.8 393.45 456.7 393.53 456.9 393.61 456.8 393.78 457.3 393.86 457.2 394.02 456.3 394.18 456.6 394.34 455.4 394.42 456.9 394.59 454.8 394.67 455.0 394.83 455.4 394.91 453.2 395.07 455.9 395.15 457.1 395.31 455.3 395.40 454.5 395.56 454.0 395.72 454.7 395.80 456.1 395.96 456.5 396.04 457.1 396.21 456.5 396.29 457.4 396.37 457.5 396.45 457.2 396.61 457.6 396.69 457.3 396.85 457.4 397.01 457.4 397.18 457.7 397.34 457.6 397.42 457.5 397.50 456.9 397.74 457.5 397.82 456.8 397.91 456.3 397.99 457.4 398.15 455.1 398.31 457.4 398.47 457.3 398.55 454.9 398.72 457.2 398.80 456.6 398.88 456.1 398.96 456.9 399.20 457.1 399.28 456.7 399.36 457.1 399.44 456.6 399.61 457.1 399.69 457.5 400.01 457.1 400.09 457.5 400.17 457.0 400.25 456.0 400.42 457.3 400.50 457.0 400.66 457.5 400.74 455.4 400.90 457.4 401.06 456.1 401.23 457.4 401.31 457.2 401.39 455.9 401.55 457.4 401.63 456.3 401.79 456.7 401.87 457.6 401.95 456.2 402.20 457.6 402.28 456.9 402.36 456.9 402.52 455.6 402.68 457.0 402.85 457.4 402.93 457.4 403.09 456.3 403.17 456.4 403.25 457.4 403.41 456.9 403.57 456.3 403.66 457.3 403.82 456.7 403.98 457.0 404.06 456.8 404.14 455.9 404.22 457.3 404.47 456.3 404.55 457.2 404.63 455.8 404.71 457.0 404.87 456.2 404.95 457.4 405.11 457.8 405.19 455.9 405.52 457.4 405.60 456.6 405.68 457.0 405.84 457.2 405.92 457.2 406.00 456.6 406.25 457.0 406.33 456.6 406.41 456.3 406.57 457.6 406.65 457.4 406.81 457.0 406.89 456.5 407.06 457.2 407.14 456.5 407.30 457.2 407.46 457.2 407.54 456.6 407.70 456.9 407.79 457.3 407.95 457.4 408.03 456.9 408.19 456.3 408.27 456.4 408.35 457.2 408.51 456.1 408.68 457.1 408.84 456.8 408.92 457.2 409.00 455.3 409.16 457.2 409.32 456.4 409.41 457.5 409.57 456.4 409.65 456.5 409.81 456.8 409.89 457.0 409.97 456.4 410.13 457.4 410.30 456.8 410.38 457.6 410.54 457.3 410.62 457.0 410.70 456.8 410.86 457.1 410.94 456.6 411.19 455.7 411.27 457.1 411.51 457.4 411.59 457.2 411.67 457.2 411.75 456.0 412.00 457.0 412.08 456.5 412.16 456.3 412.32 457.0 412.40 456.3 412.56 457.1 412.64 456.8 412.73 457.2 412.89 456.9 413.05 457.4 413.13 457.1 413.29 457.3 413.37 457.5 413.54 456.8 413.70 456.5 413.78 457.6 413.94 457.3 414.02 456.4 414.18 455.5 414.26 457.5 414.43 456.6 414.59 457.5 414.67 457.0 414.83 457.5 414.99 456.5 415.07 457.4 415.16 456.4 415.32 457.4 415.40 457.2 415.56 456.6 415.64 457.0 415.72 457.2 415.88 457.4 415.96 457.0 416.13 457.1 416.21 457.5 416.45 457.6 416.53 457.1 416.61 457.5 416.77 457.7 416.86 456.7 417.10 457.5 417.26 456.4 417.34 457.3 417.50 456.4 417.58 457.6 417.67 457.6 417.75 457.1 417.91 456.8 417.99 457.6 418.15 457.7 418.31 457.2 418.48 456.9 418.56 457.4 418.72 457.4 418.80 457.7 418.88 456.7 418.96 457.4 419.12 457.1 419.29 456.5 419.45 457.6 419.53 456.5 419.61 456.8 419.69 457.5 419.85 456.9 420.10 457.7 420.18 457.0 420.34 457.6 420.42 457.3 420.50 456.6 420.66 457.6 420.82 456.8 420.90 456.3 420.99 457.0 421.15 457.4 421.31 456.5 421.39 457.4 421.55 456.5 421.63 456.8 421.80 457.4 421.96 457.2 422.04 457.6 422.20 456.8 422.28 457.5 422.36 457.3 422.44 456.2 422.61 456.8 422.77 457.3 423.01 457.2 423.09 456.5 423.25 457.0 423.33 457.5 423.42 457.1 423.58 457.7 423.66 457.4 423.82 456.6 423.90 456.9 424.06 457.2 424.23 457.5 424.31 456.9 424.39 457.4 424.47 456.3 424.71 457.6 424.79 456.1 424.95 457.3 425.04 456.6 425.12 456.8 425.20 457.0 425.44 456.4 425.52 456.7 425.60 456.9 425.68 457.2 425.93 456.2 426.09 457.4 426.17 457.0 426.25 456.9 426.49 456.9 426.57 456.7 426.74 456.2 426.82 456.7 426.90 456.9 426.98 457.2 427.14 457.4 427.30 456.7 427.46 456.6 427.55 457.3 427.71 457.1 427.79 456.9 427.87 456.2 428.03 457.4 428.11 457.1 428.27 457.8 428.52 456.8 428.60 457.2 428.68 456.9 428.76 457.3 428.92 456.4 429.08 457.3 429.17 456.9 429.25 457.4 429.49 456.7 429.57 457.2 429.73 457.0 429.81 457.6 429.89 457.6 430.06 457.4 430.14 457.6 430.22 456.6 430.38 456.3 430.54 457.1 430.70 457.4 430.78 457.1 430.87 457.4 430.95 456.8 431.19 457.5 431.27 456.7 431.43 456.3 431.51 457.5 431.68 457.4 431.84 456.7 431.92 456.1 432.08 457.5 432.24 455.7 432.32 457.5 432.40 457.2 432.57 457.1 432.65 457.6 432.81 457.3 432.97 456.8 433.05 457.0 433.13 457.1 433.21 455.9 433.46 457.6 433.54 456.8 433.62 457.8 433.70 456.8 433.86 457.2 434.02 456.8 434.11 457.3 434.27 457.5 434.51 457.7 434.59 456.6 434.67 457.4 434.83 456.5 434.92 457.1 435.00 457.5 435.16 457.7 435.24 456.9 435.40 457.3 435.48 456.9 435.72 457.7 435.81 457.0 435.97 457.2 436.05 456.5 436.13 457.0 436.29 457.7 436.45 457.2 436.53 456.9 436.70 456.4 436.78 457.4 436.86 456.5 437.02 457.2 437.26 457.4 437.34 456.1 437.51 456.9 437.59 457.1 437.67 457.1 437.75 457.5 437.99 457.4 438.07 457.0 438.24 457.1 438.32 457.1 438.40 457.3 438.56 456.8 438.72 456.9 438.80 457.5 438.96 456.7 439.05 456.4 439.21 456.0 439.29 457.3 439.37 456.4 439.45 456.6 439.61 456.6 439.77 456.8 439.94 456.2 440.10 457.6 440.18 457.0 440.34 457.1 440.42 457.3 440.58 456.3 440.75 457.7 440.83 457.0 440.91 457.6 440.99 456.9 441.15 457.4 441.23 456.6 441.47 457.0 441.56 457.7 441.72 457.3 441.80 456.3 441.88 457.2 441.96 457.2 442.20 457.2 442.28 456.4 442.37 457.3 442.45 457.6 442.69 457.2 442.77 456.2 443.01 457.4 443.09 457.3 443.18 456.9 443.34 457.4 443.42 457.3 443.50 457.5 443.66 457.4 443.82 457.3 443.90 456.8 444.07 457.5 444.15 457.3 444.31 457.0 444.47 457.2 444.55 457.7 444.63 457.1 444.80 457.5 444.88 457.4 444.96 456.7 445.20 457.4 445.28 456.2 445.36 457.6 445.52 456.9 445.77 457.7 445.85 457.1 446.01 456.8 446.09 457.1 446.17 457.2 446.33 457.6 446.50 457.3 446.58 457.7 446.74 457.2 446.82 456.5 446.90 457.4 446.98 456.6 447.22 457.5 447.31 457.2 447.47 456.8 447.55 457.4 447.63 457.5 447.71 456.5 447.87 457.3 447.95 457.1 448.12 456.9 448.20 457.2 448.44 457.0 448.52 457.3 448.76 457.1 448.84 457.7 449.01 456.4 449.09 457.6 449.17 457.6 449.33 456.9 449.49 456.5 449.57 457.4 449.74 456.4 449.82 457.0 449.90 456.1 450.06 457.6 450.14 457.3 450.30 457.6 450.46 456.5 450.54 457.5 450.63 457.4 450.79 456.7 450.95 456.9 451.03 456.1 451.11 456.5 451.27 457.3 451.35 456.3 451.60 457.1 451.68 457.4 451.84 456.9 452.00 457.3 452.08 457.0 452.16 457.0 452.25 457.7 452.41 457.3 452.49 456.3 452.65 457.0 452.81 457.4 452.89 457.0 453.06 457.4 453.14 457.2 453.30 456.7 453.38 457.4 453.46 457.7 453.70 456.6 453.78 457.6 453.87 457.6 453.95 456.8 454.11 456.5 454.27 457.3 454.43 457.5 454.59 456.9 454.76 456.6 454.84 457.6 455.00 457.0 455.08 457.6 455.16 457.4 455.32 457.1 455.40 456.9 455.48 457.0 455.65 457.2 455.81 456.3 455.97 457.1 456.05 457.3 456.21 457.1 456.29 456.5 456.46 457.6 456.54 457.0 456.62 457.0 456.70 457.5 456.86 456.5 456.94 457.3 457.10 457.6 457.19 457.0 457.51 457.4 457.59 456.9 457.67 456.3 457.75 457.2 458.00 457.0 458.08 457.1 458.24 455.8 458.32 457.6 458.40 456.6 458.48 456.4 458.72 456.3 458.81 456.9 458.89 456.8 458.97 457.3 459.21 457.1 459.29 456.4 459.37 457.7 459.53 456.7 459.62 457.3 459.78 457.7 459.86 457.5 459.94 456.6 460.10 457.7 460.34 456.7 460.51 457.1 460.59 456.5 460.67 457.4 460.83 456.5 460.99 457.2 461.07 456.5 461.15 457.2 461.32 456.6 461.40 457.4 461.56 456.6 461.64 457.3 461.80 457.0 461.88 456.3 462.04 457.5 462.13 457.5 462.29 456.9 462.37 457.1 462.53 457.0 462.69 456.9 462.77 457.5 462.85 457.0 463.02 457.7 463.18 457.2 463.34 456.7 463.42 457.3 463.50 457.1 463.75 456.9 463.83 456.8 463.99 457.0 464.07 457.6 464.23 457.3 464.31 456.7 464.39 457.2 464.47 457.7 464.64 457.4 464.80 456.5 464.96 457.0 465.04 457.3 465.12 456.9 465.28 457.3 465.36 457.1 465.53 457.3 465.61 457.3 465.69 457.6 465.85 456.5 466.01 457.6 466.26 456.8 466.34 457.7 466.50 457.3 466.58 456.9 466.74 457.4 466.82 457.6 466.90 457.5 466.98 456.2 467.15 457.0 467.31 457.2 467.47 456.8 467.55 457.5 467.63 457.4 467.71 456.4 467.88 457.1 468.04 456.7 468.12 457.5 468.20 457.0 468.44 456.9 468.52 456.7 468.69 457.2 468.85 456.2 468.93 456.4 469.09 457.3 469.17 456.5 469.25 457.6 469.41 457.4 469.49 457.7 469.66 457.3 469.74 457.0 469.98 457.3 470.06 456.7 470.14 457.2 470.22 456.9 470.47 457.0 470.55 457.5 470.63 456.7 470.71 457.1 470.95 456.6 471.03 457.3 471.20 457.6 471.28 456.2 471.36 457.5 471.44 457.3 471.60 456.9 471.68 457.3 471.92 457.2 472.09 457.1 472.25 456.7 472.33 457.3 472.49 456.6 472.57 457.3 472.73 456.9 472.82 457.7 472.90 457.4 473.06 457.0 473.22 457.2 473.30 456.6 473.38 456.5 473.54 457.7 473.71 457.7 473.79 457.2 473.87 457.6 474.03 457.1 474.11 457.5 474.27 457.3 474.35 456.3 474.52 457.1 474.68 457.1 474.84 457.7 475.00 457.4 475.08 457.1 475.24 457.1 475.33 457.3 475.49 457.6 475.57 456.9 475.65 456.9 475.73 457.6 475.89 456.3 475.97 457.4 476.22 457.5 476.30 456.7 476.38 457.3 476.54 457.0 476.70 457.3 476.78 456.1 476.86 456.7 476.95 457.4 477.11 456.0 477.19 457.2 477.35 457.1 477.43 457.6 477.67 456.4 477.76 457.1 478.00 457.6 478.08 456.8 478.24 457.1 478.32 457.6 478.40 456.3 478.57 457.2 478.65 457.2 478.81 456.7 478.89 456.9 478.97 457.4 479.21 456.2 479.29 457.5 479.37 456.1 479.54 457.8 479.70 456.6 479.78 457.3 479.86 457.2 480.02 457.1 480.10 457.5 480.35 456.4 480.51 456.8 480.59 457.4 480.67 457.1 480.75 457.6 480.91 457.4 481.08 457.1 481.16 457.4 481.32 456.6 481.40 457.3 481.48 457.1 481.64 456.7 481.80 457.7 481.89 456.7 482.05 457.3 482.21 457.4 482.29 456.6 482.45 456.3 482.53 457.8 482.61 457.6 482.78 456.6 482.94 457.6 483.02 457.1 483.18 456.6 483.26 457.6 483.51 456.7 483.59 456.9 483.67 457.0 483.83 456.8 483.99 456.7 484.07 457.1 484.23 457.1 484.31 456.2 484.40 456.8 484.56 457.2 484.64 457.6 484.80 456.6 484.88 457.3 485.04 457.5 485.12 456.9 485.21 457.6 485.37 456.6 485.45 456.2 485.69 456.2 485.77 456.8 485.93 457.6 486.10 456.3 486.26 457.4 486.34 457.0 486.42 457.4 486.58 456.4 486.66 457.3 486.74 457.6 486.91 456.8 486.99 457.6 487.23 457.6 487.31 456.6 487.47 457.2 487.55 457.6 487.64 457.6 487.72 457.3 487.88 456.6 487.96 457.0 488.12 457.0 488.20 457.5 488.45 457.6 488.53 457.1 488.77 456.8 488.85 457.5 488.93 457.1 489.09 457.7 489.25 457.1 489.34 457.6 489.50 457.6 489.58 456.4 489.66 456.4 489.82 457.6 489.90 456.5 490.06 457.5 490.23 457.6 490.31 456.8 490.39 456.8 490.55 457.3 490.63 457.5 490.71 456.5 490.87 456.3 491.04 457.4 491.12 457.0 491.28 457.5 491.36 457.2 491.52 457.6 491.77 457.7 491.85 456.8 491.93 457.3 492.01 457.7 492.17 457.5 492.33 456.9 492.49 457.7 492.58 457.1 492.66 456.9 492.74 457.4 492.90 457.5 493.06 457.0 493.14 457.1 493.30 456.6 493.39 457.3 493.47 457.0 493.63 456.8 493.71 457.1 493.95 457.1 494.03 457.6 494.19 457.2 494.28 457.6 494.44 457.3 494.60 457.1 494.68 456.0 494.76 457.3 494.92 456.5 495.09 457.8 495.17 456.5 495.33 457.5 495.49 456.5 495.57 457.1 495.73 457.0 495.81 456.2 495.90 457.3 496.06 456.2 496.14 457.1 496.22 457.3 496.38 456.6 496.46 457.3 496.62 457.2 496.79 457.6 496.95 457.6 497.03 457.2 497.19 457.1 497.27 457.4 497.52 456.8 497.60 457.1 497.68 456.9 497.84 457.3 497.92 456.9 498.00 457.8 498.16 456.9 498.33 457.2 498.41 457.3 498.49 456.6 498.65 456.6 498.81 457.3 498.97 456.6 499.05 457.5 499.13 456.7 499.30 457.4 499.38 456.4 499.54 457.4 499.70 457.1 499.78 456.9 499.86 457.5 499.94 456.5 500.11 457.3 500.35 456.5 500.43 456.6 500.51 457.5 500.75 457.5 500.84 456.9 500.92 457.1 501.00 456.5 501.16 457.4 501.32 456.4 501.40 456.2 501.48 457.6 501.65 456.6 501.73 457.1 501.89 457.4 501.97 456.9 502.13 457.6 502.29 456.2 502.46 456.6 502.54 454.5 502.62 457.1 502.78 455.6 502.94 457.5 503.02 455.8 503.27 456.0 503.35 456.6 503.43 456.8 503.59 455.9 503.67 456.3 503.75 454.8 503.91 456.9 504.07 457.2 504.24 455.1 504.32 456.7 504.48 455.9 504.56 457.4 504.72 457.2 504.80 456.0 504.88 457.5 505.05 455.7 505.21 457.0 505.29 457.4 505.37 457.2 505.53 457.5 505.61 457.1 505.78 457.3 505.94 455.7 506.10 457.3 506.26 457.5 506.34 457.1 506.42 456.9 506.50 456.5 506.67 457.2 506.83 456.1 506.91 456.7 506.99 457.2 507.15 457.3 507.23 457.3 507.48 457.1 507.56 456.7 507.64 457.6 507.80 457.1 507.88 456.9 507.96 457.3 508.12 456.6 508.20 457.4 508.37 457.7 508.53 457.1 508.61 457.0 508.69 457.4 508.93 457.2 509.10 456.8 509.26 456.7 509.34 457.6 509.50 456.8 509.58 457.7 509.74 457.1 509.82 456.6 509.91 456.7 510.07 457.0 510.23 456.8 510.31 457.3 510.47 456.9 510.55 457.7 510.63 457.4 510.80 457.1 510.88 457.4 510.96 457.6 511.20 457.6 511.28 455.9 511.44 456.4 511.53 457.3 511.61 457.2 511.85 456.8 511.93 456.9 512.09 456.3 512.17 457.3 512.25 456.6 512.42 457.1 512.50 456.8 512.74 456.8 512.82 457.5 512.90 456.7 512.98 457.3 513.23 456.4 513.31 457.5 513.47 457.2 513.55 457.0 513.63 457.1 513.71 456.6 513.87 456.3 513.95 457.2 514.12 457.0 514.20 457.6 514.36 457.1 514.52 457.3 514.76 457.4 514.85 457.0 514.93 457.3 515.09 457.1 515.25 457.1 515.33 457.5 515.41 456.7 515.49 457.7 515.74 456.8 515.82 457.4 515.90 457.0 516.06 457.3 516.22 456.7 516.30 457.5 516.38 457.3 516.55 456.3 516.63 456.9 516.79 457.2 516.87 457.6 516.95 456.8 517.11 456.5 517.28 457.5 517.44 457.3 517.52 456.0 517.76 457.6 517.84 456.9 517.92 457.6 518.00 457.3 518.25 456.4 518.33 457.3 518.41 457.2 518.49 456.5 518.65 457.6 518.81 456.9 518.89 457.2 518.98 456.6 519.22 457.2 519.30 457.7 519.46 457.3 519.54 456.4 519.70 457.5 519.79 456.4 519.95 457.1 520.03 457.6 520.19 457.6 520.27 457.3 520.43 456.3 520.60 457.3 520.76 457.2 520.84 457.4 520.92 457.1 521.00 457.3 521.24 457.2 521.32 456.7 521.41 457.8 521.57 457.6 521.73 456.9 521.81 456.5 521.89 457.5 521.97 456.9 522.13 457.1 522.30 457.3 522.38 456.6 522.46 457.3 522.62 457.7 522.70 457.2 522.94 456.4 523.02 457.6 523.11 456.9 523.35 457.6 523.43 457.3 523.51 456.9 523.75 457.7 523.83 457.1 523.92 457.0 524.08 456.6 524.16 457.4 524.24 456.9 524.40 457.4 524.56 456.7 524.64 457.2 524.81 456.5 524.89 457.6 524.97 457.2 525.13 457.4 525.21 456.9 525.45 456.6 525.54 457.1 525.70 457.4 525.78 457.2 525.86 457.3 525.94 456.7 526.10 457.5 526.26 456.4 526.51 456.0 526.59 457.6 526.67 457.3 526.75 456.7 526.91 456.4 527.07 457.4 527.24 457.6 527.32 456.7 527.40 456.9 527.48 457.4 527.72 456.9 527.80 457.3 527.96 456.4 528.05 456.7 528.13 457.2 528.21 457.6 528.37 457.2 528.53 456.8 528.69 457.2 528.77 456.8 528.86 457.7 529.10 457.1 529.26 457.7 529.34 456.3 529.42 456.9 529.50 457.5 529.67 457.1 529.75 456.6 529.99 457.0 530.07 457.3 530.15 456.9 530.31 457.6 530.48 457.5 530.56 457.7 530.72 457.1 530.80 456.6 530.88 457.5 531.04 456.2 531.12 457.6 531.29 456.9 531.37 457.3 531.53 456.9 531.69 457.0 531.77 456.7 531.93 457.4 532.10 456.7 532.26 456.7 532.34 457.3 532.42 457.4 532.50 456.4" stroke="#0072BD" stroke-width="0.8" fill="none" stroke-linejoin="round" clip-path="url(#c3)"/>
<text x="289.55" y="494.00" text-anchor="middle" font-size="13.7">Frequency [Hz]</text>
<text x="289.55" y="512.00" text-anchor="middle" font-size="13.7">(c)</text>
<text transform="translate(16.3 407.25) rotate(-90)" text-anchor="middle" font-size="13.7">Amplitude [A]</text>
<text x="111.3" y="394.4" font-size="12.7">34.07 Hz</text>
<text x="111.3" y="410.9" font-size="12.7">0.092 A</text>
<text x="212.4" y="384.7" font-size="12.7">46.72 Hz</text>
<text x="212.4" y="401.2" font-size="12.7">0.114 A</text>
<text x="291.5" y="414.9" font-size="12.7">49.70 Hz</text>
<text x="291.5" y="431.4" font-size="12.7">0.047 A</text>
<text x="390.5" y="394.7" font-size="12.7">62.27 Hz</text>
<text x="390.5" y="411.2" font-size="12.7">0.088 A</text>
</g></svg>
</body></html>
